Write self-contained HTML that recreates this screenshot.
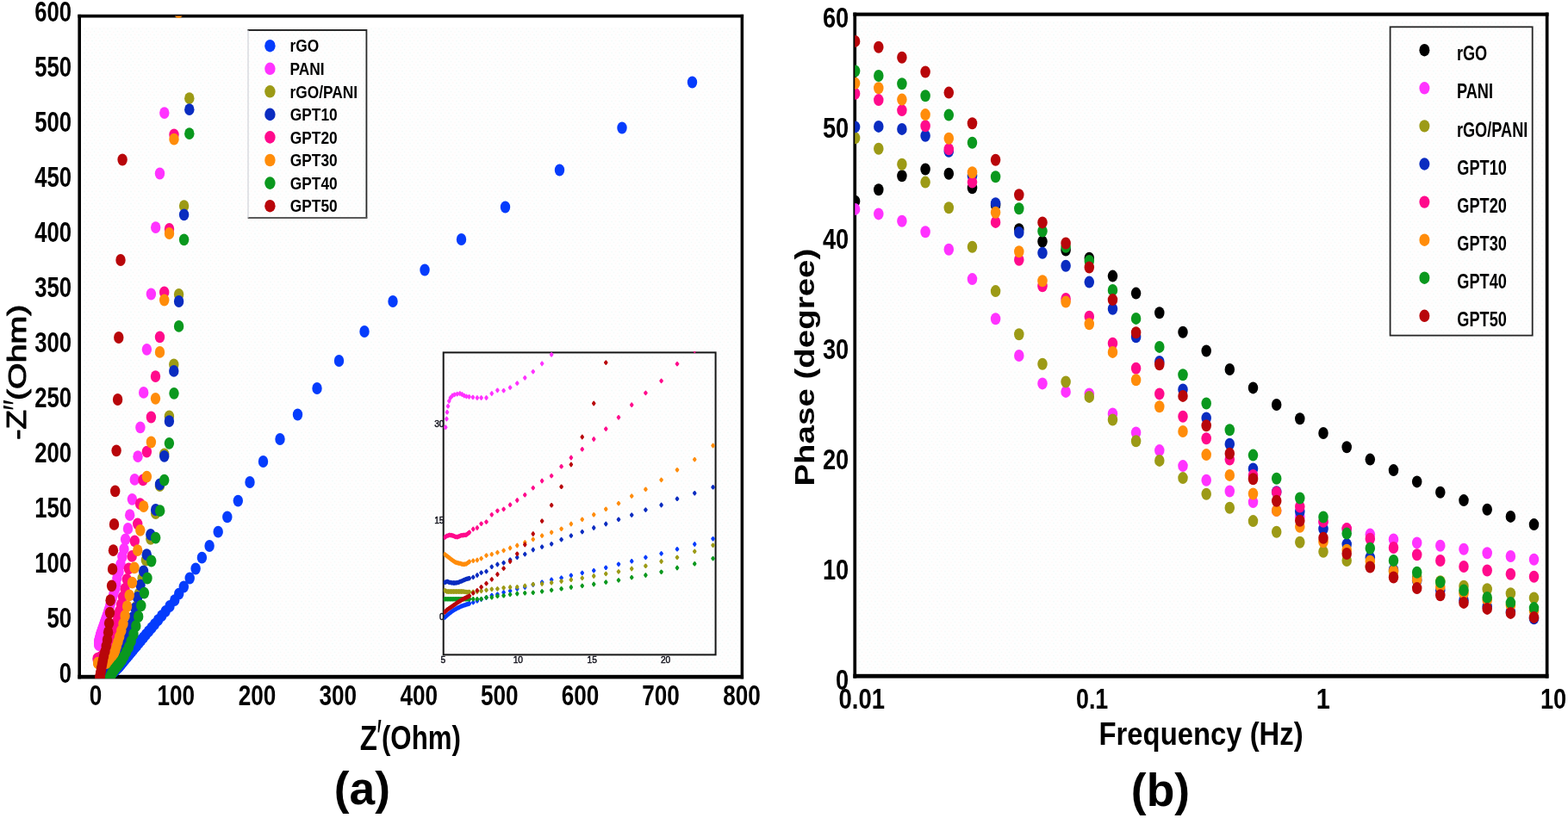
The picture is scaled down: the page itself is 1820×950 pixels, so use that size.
<!DOCTYPE html>
<html lang="en">
<head>
<meta charset="utf-8">
<title>Nyquist and Bode phase plots</title>
<style>
html,body{margin:0;padding:0;background:#fff;}
body{width:1820px;height:950px;overflow:hidden;}
svg{display:block;filter:blur(0.6px);}
svg text{font-family:"Liberation Sans", sans-serif;}
</style>
</head>
<body>
<svg width="1820" height="950" viewBox="0 0 1820 950">
<rect width="1820" height="950" fill="#ffffff"/>
<defs>
<pattern id="dz" width="9" height="7" patternUnits="userSpaceOnUse">
<rect width="9" height="7" fill="#fefefe"/>
<circle cx="1.5" cy="1.5" r="0.8" fill="#f2faf9"/>
<circle cx="6" cy="2.2" r="0.8" fill="#fef6f6"/>
<circle cx="3.6" cy="5" r="0.8" fill="#fef7f5"/>
<circle cx="8" cy="5.6" r="0.8" fill="#f1faf8"/>
</pattern>
</defs>
<rect x="97" y="31" width="760" height="751" fill="url(#dz)"/>
<g fill="#000"><rect x="90.4" y="16.8" width="3.60" height="771.60"/><rect x="90.4" y="16.8" width="772.70" height="3.70"/><rect x="859.6" y="16.8" width="3.50" height="771.60"/><rect x="90.4" y="783.8" width="772.70" height="4.60"/></g>
<clipPath id="ca"><rect x="92.2" y="18.6" width="769" height="769"/></clipPath>
<g clip-path="url(#ca)">
<g fill="#053cfc">
<ellipse cx="803.5" cy="95.5" rx="5.7" ry="6.9"/>
<ellipse cx="722.0" cy="148.5" rx="5.7" ry="6.9"/>
<ellipse cx="649.5" cy="197.5" rx="5.7" ry="6.9"/>
<ellipse cx="586.5" cy="240.5" rx="5.7" ry="6.9"/>
<ellipse cx="535.5" cy="278.0" rx="5.7" ry="6.9"/>
<ellipse cx="493.0" cy="313.5" rx="5.7" ry="6.9"/>
<ellipse cx="456.0" cy="350.0" rx="5.7" ry="6.9"/>
<ellipse cx="423.0" cy="385.0" rx="5.7" ry="6.9"/>
<ellipse cx="393.5" cy="419.0" rx="5.7" ry="6.9"/>
<ellipse cx="368.0" cy="451.0" rx="5.7" ry="6.9"/>
<ellipse cx="345.5" cy="481.5" rx="5.7" ry="6.9"/>
<ellipse cx="325.0" cy="510.0" rx="5.7" ry="6.9"/>
<ellipse cx="305.5" cy="536.0" rx="5.7" ry="6.9"/>
<ellipse cx="290.0" cy="560.0" rx="5.7" ry="6.9"/>
<ellipse cx="276.3" cy="581.6" rx="5.7" ry="6.9"/>
<ellipse cx="263.8" cy="600.4" rx="5.7" ry="6.9"/>
<ellipse cx="253.2" cy="617.7" rx="5.7" ry="6.9"/>
<ellipse cx="243.1" cy="634.0" rx="5.7" ry="6.9"/>
<ellipse cx="234.4" cy="647.7" rx="5.7" ry="6.9"/>
<ellipse cx="227.1" cy="660.5" rx="5.7" ry="6.9"/>
<ellipse cx="220.2" cy="671.5" rx="5.7" ry="6.9"/>
<ellipse cx="213.3" cy="681.5" rx="5.7" ry="6.9"/>
<ellipse cx="207.7" cy="689.7" rx="5.7" ry="6.9"/>
<ellipse cx="202.7" cy="697.2" rx="5.7" ry="6.9"/>
<ellipse cx="197.0" cy="704.0" rx="5.7" ry="6.9"/>
<ellipse cx="192.2" cy="709.8" rx="5.7" ry="6.9"/>
<ellipse cx="187.7" cy="715.2" rx="5.7" ry="6.9"/>
<ellipse cx="183.5" cy="720.2" rx="5.7" ry="6.9"/>
<ellipse cx="179.6" cy="724.8" rx="5.7" ry="6.9"/>
<ellipse cx="176.0" cy="729.2" rx="5.7" ry="6.9"/>
<ellipse cx="172.6" cy="733.1" rx="5.7" ry="6.9"/>
<ellipse cx="169.4" cy="736.8" rx="5.7" ry="6.9"/>
<ellipse cx="166.5" cy="740.3" rx="5.7" ry="6.9"/>
<ellipse cx="163.8" cy="743.5" rx="5.7" ry="6.9"/>
<ellipse cx="161.3" cy="746.5" rx="5.7" ry="6.9"/>
<ellipse cx="159.0" cy="749.3" rx="5.7" ry="6.9"/>
<ellipse cx="156.8" cy="751.9" rx="5.7" ry="6.9"/>
<ellipse cx="154.8" cy="754.3" rx="5.7" ry="6.9"/>
<ellipse cx="152.9" cy="756.6" rx="5.7" ry="6.9"/>
<ellipse cx="151.2" cy="758.6" rx="5.7" ry="6.9"/>
<ellipse cx="149.6" cy="760.6" rx="5.7" ry="6.9"/>
<ellipse cx="148.0" cy="762.4" rx="5.7" ry="6.9"/>
<ellipse cx="146.6" cy="764.0" rx="5.7" ry="6.9"/>
<ellipse cx="145.3" cy="765.6" rx="5.7" ry="6.9"/>
<ellipse cx="144.1" cy="767.0" rx="5.7" ry="6.9"/>
<ellipse cx="143.0" cy="768.4" rx="5.7" ry="6.9"/>
<ellipse cx="142.0" cy="769.6" rx="5.7" ry="6.9"/>
<ellipse cx="141.0" cy="770.8" rx="5.7" ry="6.9"/>
<ellipse cx="140.1" cy="771.9" rx="5.7" ry="6.9"/>
<ellipse cx="139.3" cy="772.9" rx="5.7" ry="6.9"/>
<ellipse cx="138.5" cy="773.8" rx="5.7" ry="6.9"/>
<ellipse cx="137.7" cy="774.7" rx="5.7" ry="6.9"/>
<ellipse cx="136.9" cy="775.4" rx="5.7" ry="6.9"/>
<ellipse cx="136.1" cy="776.2" rx="5.7" ry="6.9"/>
<ellipse cx="135.3" cy="776.9" rx="5.7" ry="6.9"/>
<ellipse cx="134.5" cy="777.7" rx="5.7" ry="6.9"/>
<ellipse cx="133.7" cy="778.4" rx="5.7" ry="6.9"/>
<ellipse cx="132.9" cy="779.2" rx="5.7" ry="6.9"/>
<ellipse cx="132.1" cy="779.9" rx="5.7" ry="6.9"/>
<ellipse cx="131.3" cy="780.7" rx="5.7" ry="6.9"/>
<ellipse cx="130.4" cy="781.3" rx="5.7" ry="6.9"/>
<ellipse cx="129.6" cy="782.0" rx="5.7" ry="6.9"/>
<ellipse cx="128.7" cy="782.7" rx="5.7" ry="6.9"/>
<ellipse cx="127.9" cy="783.4" rx="5.7" ry="6.9"/>
<ellipse cx="127.0" cy="784.1" rx="5.7" ry="6.9"/>
<ellipse cx="126.5" cy="784.5" rx="5.7" ry="6.9"/>
</g>
<g fill="#ff33ff">
<ellipse cx="190.8" cy="131.1" rx="5.7" ry="6.9"/>
<ellipse cx="185.5" cy="201.5" rx="5.7" ry="6.9"/>
<ellipse cx="180.7" cy="264.1" rx="5.7" ry="6.9"/>
<ellipse cx="175.4" cy="341.5" rx="5.7" ry="6.9"/>
<ellipse cx="170.4" cy="405.8" rx="5.7" ry="6.9"/>
<ellipse cx="166.7" cy="455.9" rx="5.7" ry="6.9"/>
<ellipse cx="162.9" cy="496.4" rx="5.7" ry="6.9"/>
<ellipse cx="160.0" cy="530.2" rx="5.7" ry="6.9"/>
<ellipse cx="156.3" cy="556.9" rx="5.7" ry="6.9"/>
<ellipse cx="153.4" cy="579.8" rx="5.7" ry="6.9"/>
<ellipse cx="150.7" cy="598.2" rx="5.7" ry="6.9"/>
<ellipse cx="148.5" cy="613.9" rx="5.7" ry="6.9"/>
<ellipse cx="145.6" cy="626.4" rx="5.7" ry="6.9"/>
<ellipse cx="144.0" cy="637.7" rx="5.7" ry="6.9"/>
<ellipse cx="141.9" cy="646.5" rx="5.7" ry="6.9"/>
<ellipse cx="140.0" cy="655.3" rx="5.7" ry="6.9"/>
<ellipse cx="138.1" cy="664.0" rx="5.7" ry="6.9"/>
<ellipse cx="135.9" cy="671.2" rx="5.7" ry="6.9"/>
<ellipse cx="134.9" cy="678.1" rx="5.7" ry="6.9"/>
<ellipse cx="133.6" cy="684.2" rx="5.7" ry="6.9"/>
<ellipse cx="131.9" cy="689.8" rx="5.7" ry="6.9"/>
<ellipse cx="130.3" cy="694.8" rx="5.7" ry="6.9"/>
<ellipse cx="128.9" cy="699.5" rx="5.7" ry="6.9"/>
<ellipse cx="127.7" cy="703.7" rx="5.7" ry="6.9"/>
<ellipse cx="126.5" cy="707.6" rx="5.7" ry="6.9"/>
<ellipse cx="125.4" cy="711.1" rx="5.7" ry="6.9"/>
<ellipse cx="124.4" cy="714.4" rx="5.7" ry="6.9"/>
<ellipse cx="123.4" cy="717.3" rx="5.7" ry="6.9"/>
<ellipse cx="122.5" cy="720.0" rx="5.7" ry="6.9"/>
<ellipse cx="121.6" cy="722.4" rx="5.7" ry="6.9"/>
<ellipse cx="120.9" cy="724.7" rx="5.7" ry="6.9"/>
<ellipse cx="120.2" cy="726.7" rx="5.7" ry="6.9"/>
<ellipse cx="119.5" cy="728.6" rx="5.7" ry="6.9"/>
<ellipse cx="118.9" cy="730.3" rx="5.7" ry="6.9"/>
<ellipse cx="118.4" cy="731.9" rx="5.7" ry="6.9"/>
<ellipse cx="117.9" cy="733.4" rx="5.7" ry="6.9"/>
<ellipse cx="117.5" cy="734.7" rx="5.7" ry="6.9"/>
<ellipse cx="117.1" cy="735.9" rx="5.7" ry="6.9"/>
<ellipse cx="116.7" cy="737.0" rx="5.7" ry="6.9"/>
<ellipse cx="116.5" cy="738.0" rx="5.7" ry="6.9"/>
<ellipse cx="116.2" cy="739.1" rx="5.7" ry="6.9"/>
<ellipse cx="115.9" cy="740.2" rx="5.7" ry="6.9"/>
<ellipse cx="115.6" cy="741.2" rx="5.7" ry="6.9"/>
<ellipse cx="115.4" cy="742.3" rx="5.7" ry="6.9"/>
<ellipse cx="115.1" cy="743.4" rx="5.7" ry="6.9"/>
<ellipse cx="114.9" cy="744.5" rx="5.7" ry="6.9"/>
<ellipse cx="114.9" cy="745.6" rx="5.7" ry="6.9"/>
<ellipse cx="114.9" cy="746.7" rx="5.7" ry="6.9"/>
<ellipse cx="114.9" cy="747.8" rx="5.7" ry="6.9"/>
<ellipse cx="114.9" cy="748.9" rx="5.7" ry="6.9"/>
<ellipse cx="114.9" cy="749.2" rx="5.7" ry="6.9"/>
</g>
<g fill="#9c9a16">
<ellipse cx="219.8" cy="114.2" rx="5.7" ry="6.9"/>
<ellipse cx="213.6" cy="239.1" rx="5.7" ry="6.9"/>
<ellipse cx="207.6" cy="341.9" rx="5.7" ry="6.9"/>
<ellipse cx="201.8" cy="423.4" rx="5.7" ry="6.9"/>
<ellipse cx="196.4" cy="483.5" rx="5.7" ry="6.9"/>
<ellipse cx="190.7" cy="527.3" rx="5.7" ry="6.9"/>
<ellipse cx="185.5" cy="564.2" rx="5.7" ry="6.9"/>
<ellipse cx="180.7" cy="596.2" rx="5.7" ry="6.9"/>
<ellipse cx="174.8" cy="625.8" rx="5.7" ry="6.9"/>
<ellipse cx="169.4" cy="650.5" rx="5.7" ry="6.9"/>
<ellipse cx="165.1" cy="671.6" rx="5.7" ry="6.9"/>
<ellipse cx="161.4" cy="689.4" rx="5.7" ry="6.9"/>
<ellipse cx="158.1" cy="704.6" rx="5.7" ry="6.9"/>
<ellipse cx="155.2" cy="717.4" rx="5.7" ry="6.9"/>
<ellipse cx="152.4" cy="728.2" rx="5.7" ry="6.9"/>
<ellipse cx="149.8" cy="737.3" rx="5.7" ry="6.9"/>
<ellipse cx="147.5" cy="745.1" rx="5.7" ry="6.9"/>
<ellipse cx="144.9" cy="751.4" rx="5.7" ry="6.9"/>
<ellipse cx="142.8" cy="756.8" rx="5.7" ry="6.9"/>
<ellipse cx="140.7" cy="761.3" rx="5.7" ry="6.9"/>
<ellipse cx="138.5" cy="764.8" rx="5.7" ry="6.9"/>
<ellipse cx="136.7" cy="767.9" rx="5.7" ry="6.9"/>
<ellipse cx="135.1" cy="770.4" rx="5.7" ry="6.9"/>
<ellipse cx="133.7" cy="772.6" rx="5.7" ry="6.9"/>
<ellipse cx="132.1" cy="774.0" rx="5.7" ry="6.9"/>
<ellipse cx="130.5" cy="775.1" rx="5.7" ry="6.9"/>
<ellipse cx="129.3" cy="775.9" rx="5.7" ry="6.9"/>
<ellipse cx="128.2" cy="776.7" rx="5.7" ry="6.9"/>
<ellipse cx="127.2" cy="777.4" rx="5.7" ry="6.9"/>
<ellipse cx="126.3" cy="778.0" rx="5.7" ry="6.9"/>
<ellipse cx="125.4" cy="778.6" rx="5.7" ry="6.9"/>
<ellipse cx="124.5" cy="779.2" rx="5.7" ry="6.9"/>
<ellipse cx="123.6" cy="779.9" rx="5.7" ry="6.9"/>
<ellipse cx="122.7" cy="780.5" rx="5.7" ry="6.9"/>
<ellipse cx="122.0" cy="781.0" rx="5.7" ry="6.9"/>
</g>
<g fill="#0a2cc0">
<ellipse cx="219.8" cy="127.2" rx="5.7" ry="6.9"/>
<ellipse cx="213.6" cy="249.4" rx="5.7" ry="6.9"/>
<ellipse cx="207.6" cy="350.0" rx="5.7" ry="6.9"/>
<ellipse cx="201.8" cy="430.9" rx="5.7" ry="6.9"/>
<ellipse cx="196.4" cy="489.1" rx="5.7" ry="6.9"/>
<ellipse cx="190.7" cy="529.8" rx="5.7" ry="6.9"/>
<ellipse cx="185.5" cy="562.5" rx="5.7" ry="6.9"/>
<ellipse cx="180.7" cy="592.0" rx="5.7" ry="6.9"/>
<ellipse cx="174.8" cy="620.8" rx="5.7" ry="6.9"/>
<ellipse cx="170.3" cy="644.2" rx="5.7" ry="6.9"/>
<ellipse cx="166.6" cy="663.4" rx="5.7" ry="6.9"/>
<ellipse cx="163.0" cy="679.6" rx="5.7" ry="6.9"/>
<ellipse cx="159.6" cy="693.9" rx="5.7" ry="6.9"/>
<ellipse cx="156.9" cy="706.5" rx="5.7" ry="6.9"/>
<ellipse cx="153.8" cy="717.4" rx="5.7" ry="6.9"/>
<ellipse cx="151.2" cy="727.0" rx="5.7" ry="6.9"/>
<ellipse cx="148.9" cy="735.5" rx="5.7" ry="6.9"/>
<ellipse cx="146.2" cy="742.7" rx="5.7" ry="6.9"/>
<ellipse cx="143.8" cy="749.1" rx="5.7" ry="6.9"/>
<ellipse cx="141.7" cy="754.7" rx="5.7" ry="6.9"/>
<ellipse cx="139.6" cy="759.6" rx="5.7" ry="6.9"/>
<ellipse cx="137.6" cy="763.8" rx="5.7" ry="6.9"/>
<ellipse cx="135.3" cy="767.2" rx="5.7" ry="6.9"/>
<ellipse cx="133.2" cy="770.2" rx="5.7" ry="6.9"/>
<ellipse cx="131.4" cy="772.8" rx="5.7" ry="6.9"/>
<ellipse cx="129.7" cy="775.0" rx="5.7" ry="6.9"/>
<ellipse cx="128.3" cy="777.0" rx="5.7" ry="6.9"/>
<ellipse cx="127.0" cy="778.7" rx="5.7" ry="6.9"/>
<ellipse cx="125.8" cy="780.3" rx="5.7" ry="6.9"/>
<ellipse cx="125.0" cy="781.7" rx="5.7" ry="6.9"/>
<ellipse cx="124.3" cy="783.0" rx="5.7" ry="6.9"/>
<ellipse cx="123.6" cy="784.1" rx="5.7" ry="6.9"/>
<ellipse cx="123.1" cy="785.1" rx="5.7" ry="6.9"/>
<ellipse cx="122.5" cy="786.1" rx="5.7" ry="6.9"/>
<ellipse cx="122.0" cy="787.1" rx="5.7" ry="6.9"/>
<ellipse cx="121.6" cy="788.1" rx="5.7" ry="6.9"/>
<ellipse cx="121.3" cy="789.1" rx="5.7" ry="6.9"/>
<ellipse cx="120.9" cy="790.2" rx="5.7" ry="6.9"/>
<ellipse cx="120.6" cy="791.2" rx="5.7" ry="6.9"/>
<ellipse cx="120.2" cy="792.3" rx="5.7" ry="6.9"/>
<ellipse cx="120.0" cy="793.0" rx="5.7" ry="6.9"/>
</g>
<g fill="#ff0a8c">
<ellipse cx="202.0" cy="156.4" rx="5.7" ry="6.9"/>
<ellipse cx="196.5" cy="266.0" rx="5.7" ry="6.9"/>
<ellipse cx="190.7" cy="339.4" rx="5.7" ry="6.9"/>
<ellipse cx="185.5" cy="391.4" rx="5.7" ry="6.9"/>
<ellipse cx="180.5" cy="437.1" rx="5.7" ry="6.9"/>
<ellipse cx="175.4" cy="484.5" rx="5.7" ry="6.9"/>
<ellipse cx="170.4" cy="524.6" rx="5.7" ry="6.9"/>
<ellipse cx="166.0" cy="557.4" rx="5.7" ry="6.9"/>
<ellipse cx="162.6" cy="585.1" rx="5.7" ry="6.9"/>
<ellipse cx="159.7" cy="608.3" rx="5.7" ry="6.9"/>
<ellipse cx="156.3" cy="628.3" rx="5.7" ry="6.9"/>
<ellipse cx="153.2" cy="645.9" rx="5.7" ry="6.9"/>
<ellipse cx="149.4" cy="660.3" rx="5.7" ry="6.9"/>
<ellipse cx="147.3" cy="672.8" rx="5.7" ry="6.9"/>
<ellipse cx="145.0" cy="683.8" rx="5.7" ry="6.9"/>
<ellipse cx="142.6" cy="693.5" rx="5.7" ry="6.9"/>
<ellipse cx="140.5" cy="702.1" rx="5.7" ry="6.9"/>
<ellipse cx="138.6" cy="709.8" rx="5.7" ry="6.9"/>
<ellipse cx="136.9" cy="716.6" rx="5.7" ry="6.9"/>
<ellipse cx="135.3" cy="722.7" rx="5.7" ry="6.9"/>
<ellipse cx="134.0" cy="728.0" rx="5.7" ry="6.9"/>
<ellipse cx="132.8" cy="732.8" rx="5.7" ry="6.9"/>
<ellipse cx="131.5" cy="737.0" rx="5.7" ry="6.9"/>
<ellipse cx="130.4" cy="740.7" rx="5.7" ry="6.9"/>
<ellipse cx="129.2" cy="744.0" rx="5.7" ry="6.9"/>
<ellipse cx="128.1" cy="746.8" rx="5.7" ry="6.9"/>
<ellipse cx="127.1" cy="749.4" rx="5.7" ry="6.9"/>
<ellipse cx="126.2" cy="751.6" rx="5.7" ry="6.9"/>
<ellipse cx="125.1" cy="753.5" rx="5.7" ry="6.9"/>
<ellipse cx="124.1" cy="755.1" rx="5.7" ry="6.9"/>
<ellipse cx="123.2" cy="756.6" rx="5.7" ry="6.9"/>
<ellipse cx="122.3" cy="757.8" rx="5.7" ry="6.9"/>
<ellipse cx="121.6" cy="759.0" rx="5.7" ry="6.9"/>
<ellipse cx="121.0" cy="760.0" rx="5.7" ry="6.9"/>
<ellipse cx="120.1" cy="760.7" rx="5.7" ry="6.9"/>
<ellipse cx="119.3" cy="761.4" rx="5.7" ry="6.9"/>
<ellipse cx="118.4" cy="762.1" rx="5.7" ry="6.9"/>
<ellipse cx="117.6" cy="762.7" rx="5.7" ry="6.9"/>
<ellipse cx="116.7" cy="763.4" rx="5.7" ry="6.9"/>
<ellipse cx="115.8" cy="764.1" rx="5.7" ry="6.9"/>
<ellipse cx="114.8" cy="764.4" rx="5.7" ry="6.9"/>
<ellipse cx="113.7" cy="764.8" rx="5.7" ry="6.9"/>
<ellipse cx="113.0" cy="765.0" rx="5.7" ry="6.9"/>
</g>
<g fill="#ff8c0a">
<ellipse cx="207.2" cy="14.0" rx="5.7" ry="6.9"/>
<ellipse cx="202.0" cy="161.7" rx="5.7" ry="6.9"/>
<ellipse cx="196.5" cy="271.0" rx="5.7" ry="6.9"/>
<ellipse cx="190.7" cy="348.5" rx="5.7" ry="6.9"/>
<ellipse cx="185.5" cy="408.9" rx="5.7" ry="6.9"/>
<ellipse cx="180.5" cy="462.8" rx="5.7" ry="6.9"/>
<ellipse cx="175.4" cy="513.5" rx="5.7" ry="6.9"/>
<ellipse cx="170.4" cy="553.6" rx="5.7" ry="6.9"/>
<ellipse cx="166.7" cy="588.2" rx="5.7" ry="6.9"/>
<ellipse cx="162.8" cy="615.8" rx="5.7" ry="6.9"/>
<ellipse cx="159.7" cy="639.2" rx="5.7" ry="6.9"/>
<ellipse cx="156.0" cy="659.4" rx="5.7" ry="6.9"/>
<ellipse cx="153.5" cy="676.7" rx="5.7" ry="6.9"/>
<ellipse cx="150.2" cy="691.4" rx="5.7" ry="6.9"/>
<ellipse cx="147.6" cy="704.1" rx="5.7" ry="6.9"/>
<ellipse cx="145.1" cy="715.0" rx="5.7" ry="6.9"/>
<ellipse cx="143.0" cy="724.5" rx="5.7" ry="6.9"/>
<ellipse cx="140.8" cy="732.5" rx="5.7" ry="6.9"/>
<ellipse cx="138.7" cy="739.4" rx="5.7" ry="6.9"/>
<ellipse cx="136.9" cy="745.4" rx="5.7" ry="6.9"/>
<ellipse cx="135.3" cy="750.5" rx="5.7" ry="6.9"/>
<ellipse cx="133.9" cy="754.9" rx="5.7" ry="6.9"/>
<ellipse cx="132.6" cy="758.7" rx="5.7" ry="6.9"/>
<ellipse cx="131.4" cy="761.9" rx="5.7" ry="6.9"/>
<ellipse cx="130.2" cy="764.6" rx="5.7" ry="6.9"/>
<ellipse cx="128.3" cy="766.4" rx="5.7" ry="6.9"/>
<ellipse cx="126.7" cy="767.9" rx="5.7" ry="6.9"/>
<ellipse cx="125.3" cy="769.2" rx="5.7" ry="6.9"/>
<ellipse cx="123.8" cy="769.8" rx="5.7" ry="6.9"/>
<ellipse cx="122.5" cy="770.1" rx="5.7" ry="6.9"/>
<ellipse cx="121.3" cy="770.4" rx="5.7" ry="6.9"/>
<ellipse cx="120.2" cy="770.7" rx="5.7" ry="6.9"/>
<ellipse cx="119.1" cy="771.0" rx="5.7" ry="6.9"/>
<ellipse cx="118.1" cy="770.8" rx="5.7" ry="6.9"/>
<ellipse cx="117.0" cy="770.6" rx="5.7" ry="6.9"/>
<ellipse cx="115.9" cy="770.4" rx="5.7" ry="6.9"/>
<ellipse cx="114.8" cy="770.2" rx="5.7" ry="6.9"/>
<ellipse cx="113.7" cy="770.0" rx="5.7" ry="6.9"/>
<ellipse cx="113.7" cy="770.0" rx="5.7" ry="6.9"/>
</g>
<g fill="#0a981e">
<ellipse cx="219.8" cy="155.2" rx="5.7" ry="6.9"/>
<ellipse cx="213.6" cy="278.3" rx="5.7" ry="6.9"/>
<ellipse cx="207.6" cy="378.9" rx="5.7" ry="6.9"/>
<ellipse cx="202.0" cy="456.8" rx="5.7" ry="6.9"/>
<ellipse cx="196.4" cy="514.8" rx="5.7" ry="6.9"/>
<ellipse cx="190.7" cy="557.6" rx="5.7" ry="6.9"/>
<ellipse cx="185.7" cy="593.2" rx="5.7" ry="6.9"/>
<ellipse cx="180.7" cy="624.6" rx="5.7" ry="6.9"/>
<ellipse cx="175.7" cy="651.5" rx="5.7" ry="6.9"/>
<ellipse cx="171.0" cy="671.5" rx="5.7" ry="6.9"/>
<ellipse cx="167.4" cy="688.6" rx="5.7" ry="6.9"/>
<ellipse cx="163.8" cy="703.3" rx="5.7" ry="6.9"/>
<ellipse cx="160.7" cy="716.0" rx="5.7" ry="6.9"/>
<ellipse cx="157.8" cy="727.0" rx="5.7" ry="6.9"/>
<ellipse cx="155.0" cy="736.5" rx="5.7" ry="6.9"/>
<ellipse cx="152.2" cy="744.6" rx="5.7" ry="6.9"/>
<ellipse cx="149.5" cy="751.5" rx="5.7" ry="6.9"/>
<ellipse cx="146.6" cy="757.2" rx="5.7" ry="6.9"/>
<ellipse cx="144.0" cy="762.1" rx="5.7" ry="6.9"/>
<ellipse cx="141.6" cy="766.3" rx="5.7" ry="6.9"/>
<ellipse cx="139.2" cy="769.7" rx="5.7" ry="6.9"/>
<ellipse cx="136.9" cy="772.5" rx="5.7" ry="6.9"/>
<ellipse cx="134.9" cy="774.9" rx="5.7" ry="6.9"/>
<ellipse cx="133.2" cy="777.1" rx="5.7" ry="6.9"/>
<ellipse cx="131.9" cy="779.1" rx="5.7" ry="6.9"/>
<ellipse cx="130.7" cy="780.7" rx="5.7" ry="6.9"/>
<ellipse cx="129.8" cy="782.3" rx="5.7" ry="6.9"/>
<ellipse cx="129.2" cy="783.7" rx="5.7" ry="6.9"/>
<ellipse cx="128.6" cy="784.9" rx="5.7" ry="6.9"/>
<ellipse cx="128.0" cy="785.9" rx="5.7" ry="6.9"/>
<ellipse cx="127.6" cy="786.9" rx="5.7" ry="6.9"/>
<ellipse cx="127.2" cy="787.9" rx="5.7" ry="6.9"/>
<ellipse cx="126.8" cy="789.0" rx="5.7" ry="6.9"/>
<ellipse cx="126.5" cy="790.0" rx="5.7" ry="6.9"/>
<ellipse cx="126.1" cy="791.1" rx="5.7" ry="6.9"/>
<ellipse cx="125.8" cy="792.1" rx="5.7" ry="6.9"/>
<ellipse cx="125.5" cy="793.0" rx="5.7" ry="6.9"/>
</g>
<g fill="#b8060a">
<ellipse cx="142.1" cy="185.5" rx="5.7" ry="6.9"/>
<ellipse cx="140.0" cy="302.0" rx="5.7" ry="6.9"/>
<ellipse cx="137.8" cy="392.0" rx="5.7" ry="6.9"/>
<ellipse cx="136.6" cy="464.0" rx="5.7" ry="6.9"/>
<ellipse cx="135.1" cy="523.3" rx="5.7" ry="6.9"/>
<ellipse cx="133.7" cy="570.4" rx="5.7" ry="6.9"/>
<ellipse cx="132.5" cy="608.9" rx="5.7" ry="6.9"/>
<ellipse cx="131.5" cy="639.2" rx="5.7" ry="6.9"/>
<ellipse cx="130.6" cy="660.9" rx="5.7" ry="6.9"/>
<ellipse cx="129.6" cy="680.3" rx="5.7" ry="6.9"/>
<ellipse cx="128.1" cy="697.2" rx="5.7" ry="6.9"/>
<ellipse cx="127.5" cy="711.6" rx="5.7" ry="6.9"/>
<ellipse cx="126.6" cy="723.8" rx="5.7" ry="6.9"/>
<ellipse cx="125.6" cy="734.2" rx="5.7" ry="6.9"/>
<ellipse cx="124.5" cy="743.0" rx="5.7" ry="6.9"/>
<ellipse cx="123.2" cy="750.5" rx="5.7" ry="6.9"/>
<ellipse cx="121.9" cy="756.8" rx="5.7" ry="6.9"/>
<ellipse cx="120.5" cy="762.1" rx="5.7" ry="6.9"/>
<ellipse cx="119.5" cy="766.6" rx="5.7" ry="6.9"/>
<ellipse cx="118.8" cy="770.5" rx="5.7" ry="6.9"/>
<ellipse cx="118.1" cy="773.8" rx="5.7" ry="6.9"/>
<ellipse cx="117.6" cy="776.7" rx="5.7" ry="6.9"/>
<ellipse cx="117.2" cy="779.1" rx="5.7" ry="6.9"/>
<ellipse cx="116.8" cy="781.1" rx="5.7" ry="6.9"/>
<ellipse cx="116.5" cy="782.9" rx="5.7" ry="6.9"/>
<ellipse cx="116.3" cy="784.4" rx="5.7" ry="6.9"/>
<ellipse cx="116.2" cy="785.7" rx="5.7" ry="6.9"/>
<ellipse cx="116.0" cy="786.8" rx="5.7" ry="6.9"/>
<ellipse cx="115.9" cy="787.9" rx="5.7" ry="6.9"/>
<ellipse cx="115.8" cy="788.9" rx="5.7" ry="6.9"/>
<ellipse cx="115.6" cy="790.0" rx="5.7" ry="6.9"/>
<ellipse cx="115.5" cy="791.1" rx="5.7" ry="6.9"/>
<ellipse cx="115.4" cy="792.2" rx="5.7" ry="6.9"/>
<ellipse cx="115.3" cy="793.0" rx="5.7" ry="6.9"/>
</g>
</g>
<rect x="288" y="35" width="137.4" height="218" fill="url(#dz)"/>
<path d="M287.4 35 H425.4 V253.6" fill="none" stroke="#2a2a2a" stroke-width="1.8"/>
<path d="M287.6 253 H426.3" fill="none" stroke="#5a5a5a" stroke-width="2"/>
<path d="M288 35 V253" fill="none" stroke="#c8c8d0" stroke-width="1"/>
<ellipse cx="313.4" cy="53.2" rx="6.2" ry="7.3" fill="#053cfc"/>
<ellipse cx="313.4" cy="79.8" rx="6.2" ry="7.3" fill="#ff33ff"/>
<ellipse cx="313.4" cy="106.3" rx="6.2" ry="7.3" fill="#9c9a16"/>
<ellipse cx="313.4" cy="132.9" rx="6.2" ry="7.3" fill="#0a2cc0"/>
<ellipse cx="313.4" cy="159.4" rx="6.2" ry="7.3" fill="#ff0a8c"/>
<ellipse cx="313.4" cy="186.0" rx="6.2" ry="7.3" fill="#ff8c0a"/>
<ellipse cx="313.4" cy="212.6" rx="6.2" ry="7.3" fill="#0a981e"/>
<ellipse cx="313.4" cy="239.2" rx="6.2" ry="7.3" fill="#b8060a"/>
<rect x="514.7" y="409.4" width="315.9" height="351" fill="none" stroke="#161616" stroke-width="2"/>
<clipPath id="ci"><rect x="514.7" y="408.6" width="316.6" height="352"/></clipPath>
<g clip-path="url(#ci)">
<g fill="#053cfc" stroke="#053cfc" stroke-width="1.9" stroke-linejoin="round">
<path d="M516.3 715.2L517.6 717.1L516.3 719.0L514.9 717.1Z"/>
<path d="M517.4 714.2L518.8 716.1L517.4 717.9L516.1 716.1Z"/>
<path d="M518.5 713.2L519.9 715.1L518.5 716.9L517.2 715.1Z"/>
<path d="M519.6 712.2L521.0 714.1L519.6 715.9L518.3 714.1Z"/>
<path d="M520.8 711.2L522.1 713.1L520.8 714.9L519.4 713.1Z"/>
<path d="M521.9 710.3L523.2 712.1L521.9 714.0L520.5 712.1Z"/>
<path d="M523.1 709.4L524.5 711.2L523.1 713.1L521.8 711.2Z"/>
<path d="M524.3 708.5L525.7 710.4L524.3 712.2L523.0 710.4Z"/>
<path d="M525.6 707.6L526.9 709.5L525.6 711.3L524.2 709.5Z"/>
<path d="M526.8 706.8L528.1 708.6L526.8 710.5L525.4 708.6Z"/>
<path d="M528.0 706.0L529.4 707.8L528.0 709.7L526.7 707.8Z"/>
<path d="M529.4 705.3L530.7 707.1L529.4 709.0L528.0 707.1Z"/>
<path d="M530.7 704.6L532.0 706.4L530.7 708.3L529.3 706.4Z"/>
<path d="M532.0 703.9L533.4 705.8L532.0 707.6L530.7 705.8Z"/>
<path d="M533.4 703.3L534.7 705.1L533.4 707.0L532.0 705.1Z"/>
<path d="M534.8 702.6L536.1 704.5L534.8 706.3L533.4 704.5Z"/>
<path d="M536.1 702.1L537.5 703.9L536.1 705.8L534.8 703.9Z"/>
<path d="M537.5 701.5L538.9 703.3L537.5 705.2L536.2 703.3Z"/>
<path d="M539.0 701.0L540.3 702.9L539.0 704.7L537.6 702.9Z"/>
<path d="M540.4 700.6L541.7 702.4L540.4 704.3L539.0 702.4Z"/>
<path d="M541.8 700.1L543.2 702.0L541.8 703.8L540.5 702.0Z"/>
<path d="M543.2 699.6L544.6 701.5L543.2 703.3L541.9 701.5Z"/>
<path d="M544.7 699.1L546.0 701.0L544.7 702.8L543.3 701.0Z"/>
<path d="M544.9 699.0L546.2 700.9L544.9 702.8L543.5 700.9Z"/>
<path d="M549.2 697.8L550.6 699.6L549.2 701.5L547.9 699.6Z"/>
<path d="M553.9 696.0L555.2 697.9L553.9 699.8L552.5 697.9Z"/>
<path d="M558.6 694.1L560.0 696.0L558.6 697.9L557.2 696.0Z"/>
<path d="M564.5 692.1L565.9 694.0L564.5 695.9L563.1 694.0Z"/>
<path d="M570.8 689.5L572.1 691.4L570.8 693.2L569.4 691.4Z"/>
<path d="M577.4 688.4L578.8 690.2L577.4 692.1L576.0 690.2Z"/>
<path d="M584.6 686.1L586.0 688.0L584.6 689.9L583.2 688.0Z"/>
<path d="M592.1 684.4L593.5 686.2L592.1 688.1L590.8 686.2Z"/>
<path d="M600.3 682.0L601.6 683.9L600.3 685.8L598.9 683.9Z"/>
<path d="M609.3 680.1L610.6 682.0L609.3 683.9L607.9 682.0Z"/>
<path d="M618.8 677.1L620.1 679.0L618.8 680.9L617.4 679.0Z"/>
<path d="M629.1 674.2L630.5 676.1L629.1 678.0L627.8 676.1Z"/>
<path d="M640.1 671.4L641.5 673.3L640.1 675.1L638.8 673.3Z"/>
<path d="M651.6 669.2L653.0 671.1L651.6 673.0L650.2 671.1Z"/>
<path d="M662.9 666.4L664.2 668.2L662.9 670.1L661.5 668.2Z"/>
<path d="M675.8 663.5L677.1 665.4L675.8 667.2L674.4 665.4Z"/>
<path d="M689.2 660.8L690.6 662.6L689.2 664.5L687.9 662.6Z"/>
<path d="M703.3 657.4L704.6 659.2L703.3 661.1L701.9 659.2Z"/>
<path d="M718.0 653.4L719.4 655.2L718.0 657.1L716.6 655.2Z"/>
<path d="M733.2 649.9L734.6 651.8L733.2 653.6L731.9 651.8Z"/>
<path d="M749.4 645.5L750.8 647.4L749.4 649.2L748.0 647.4Z"/>
<path d="M767.6 641.0L769.0 642.9L767.6 644.8L766.2 642.9Z"/>
<path d="M786.0 635.9L787.4 637.8L786.0 639.6L784.6 637.8Z"/>
<path d="M806.3 630.1L807.6 632.0L806.3 633.9L804.9 632.0Z"/>
<path d="M827.6 623.9L829.0 625.7L827.6 627.6L826.2 625.7Z"/>
</g>
<g fill="#ff33ff" stroke="#ff33ff" stroke-width="1.9" stroke-linejoin="round">
<path d="M517.2 494.3L518.6 496.2L517.2 498.1L515.9 496.2Z"/>
<path d="M518.4 484.6L519.8 486.5L518.4 488.4L517.0 486.5Z"/>
<path d="M519.0 476.8L520.4 478.7L519.0 480.6L517.6 478.7Z"/>
<path d="M520.0 469.8L521.4 471.7L520.0 473.6L518.6 471.7Z"/>
<path d="M521.3 463.9L522.6 465.8L521.3 467.7L519.9 465.8Z"/>
<path d="M522.9 460.1L524.2 462.0L522.9 463.9L521.5 462.0Z"/>
<path d="M525.1 457.6L526.5 459.5L525.1 461.4L523.8 459.5Z"/>
<path d="M527.6 456.4L529.0 458.3L527.6 460.2L526.2 458.3Z"/>
<path d="M530.7 455.8L532.1 457.6L530.7 459.5L529.4 457.6Z"/>
<path d="M533.8 455.1L535.1 457.0L533.8 458.9L532.4 457.0Z"/>
<path d="M536.3 456.1L537.6 458.0L536.3 459.9L534.9 458.0Z"/>
<path d="M538.8 457.6L540.1 459.5L538.8 461.4L537.4 459.5Z"/>
<path d="M541.4 458.5L542.8 460.4L541.4 462.2L540.0 460.4Z"/>
<path d="M544.5 458.9L545.9 460.8L544.5 462.7L543.1 460.8Z"/>
<path d="M548.9 459.5L550.2 461.4L548.9 463.2L547.5 461.4Z"/>
<path d="M553.9 460.1L555.2 462.0L553.9 463.9L552.5 462.0Z"/>
<path d="M558.6 460.1L560.0 462.0L558.6 463.9L557.2 462.0Z"/>
<path d="M564.5 460.1L565.9 462.0L564.5 463.9L563.1 462.0Z"/>
<path d="M570.8 455.1L572.1 457.0L570.8 458.9L569.4 457.0Z"/>
<path d="M577.4 451.4L578.8 453.3L577.4 455.2L576.0 453.3Z"/>
<path d="M584.6 451.8L586.0 453.6L584.6 455.5L583.2 453.6Z"/>
<path d="M592.1 448.2L593.5 450.1L592.1 452.0L590.8 450.1Z"/>
<path d="M600.3 443.2L601.6 445.1L600.3 447.0L598.9 445.1Z"/>
<path d="M609.3 436.9L610.6 438.8L609.3 440.7L607.9 438.8Z"/>
<path d="M618.8 429.8L620.1 431.6L618.8 433.5L617.4 431.6Z"/>
<path d="M629.1 420.4L630.5 422.3L629.1 424.2L627.8 422.3Z"/>
<path d="M640.1 410.0L641.5 411.9L640.1 413.8L638.8 411.9Z"/>
</g>
<g fill="#9c9a16" stroke="#9c9a16" stroke-width="1.9" stroke-linejoin="round">
<path d="M516.3 683.9L517.6 685.8L516.3 687.6L514.9 685.8Z"/>
<path d="M517.7 684.6L519.0 686.4L517.7 688.3L516.3 686.4Z"/>
<path d="M519.0 685.1L520.4 687.0L519.0 688.9L517.7 687.0Z"/>
<path d="M520.5 685.1L521.9 687.0L520.5 688.9L519.2 687.0Z"/>
<path d="M522.0 685.1L523.4 687.0L522.0 688.9L520.7 687.0Z"/>
<path d="M523.5 685.1L524.9 687.0L523.5 688.9L522.2 687.0Z"/>
<path d="M525.0 685.1L526.4 687.0L525.0 688.9L523.7 687.0Z"/>
<path d="M526.5 685.1L527.9 687.0L526.5 688.9L525.2 687.0Z"/>
<path d="M528.0 685.1L529.4 687.0L528.0 688.9L526.7 687.0Z"/>
<path d="M529.5 685.1L530.9 687.0L529.5 688.9L528.2 687.0Z"/>
<path d="M531.0 685.1L532.4 687.0L531.0 688.9L529.7 687.0Z"/>
<path d="M532.5 685.1L533.9 687.0L532.5 688.9L531.2 687.0Z"/>
<path d="M534.0 685.1L535.4 687.0L534.0 688.9L532.7 687.0Z"/>
<path d="M535.5 685.1L536.9 687.0L535.5 688.9L534.2 687.0Z"/>
<path d="M537.0 685.1L538.4 687.0L537.0 688.9L535.7 687.0Z"/>
<path d="M538.5 685.3L539.9 687.2L538.5 689.0L537.2 687.2Z"/>
<path d="M540.0 685.6L541.3 687.4L540.0 689.3L538.6 687.4Z"/>
<path d="M541.5 685.8L542.8 687.7L541.5 689.5L540.1 687.7Z"/>
<path d="M543.0 685.8L544.3 687.7L543.0 689.5L541.6 687.7Z"/>
<path d="M544.5 685.8L545.8 687.6L544.5 689.5L543.1 687.6Z"/>
<path d="M544.9 685.8L546.2 687.6L544.9 689.5L543.5 687.6Z"/>
<path d="M549.2 685.5L550.6 687.4L549.2 689.2L547.9 687.4Z"/>
<path d="M553.9 685.1L555.2 687.0L553.9 688.9L552.5 687.0Z"/>
<path d="M558.6 684.5L560.0 686.4L558.6 688.2L557.2 686.4Z"/>
<path d="M564.5 683.5L565.9 685.4L564.5 687.2L563.1 685.4Z"/>
<path d="M570.8 682.4L572.1 684.2L570.8 686.1L569.4 684.2Z"/>
<path d="M577.4 682.0L578.8 683.9L577.4 685.8L576.0 683.9Z"/>
<path d="M584.6 680.9L586.0 682.7L584.6 684.6L583.2 682.7Z"/>
<path d="M592.1 680.1L593.5 682.0L592.1 683.9L590.8 682.0Z"/>
<path d="M600.3 679.9L601.6 681.8L600.3 683.6L598.9 681.8Z"/>
<path d="M609.3 678.5L610.6 680.4L609.3 682.2L607.9 680.4Z"/>
<path d="M618.8 676.8L620.1 678.6L618.8 680.5L617.4 678.6Z"/>
<path d="M629.1 676.1L630.5 678.0L629.1 679.9L627.8 678.0Z"/>
<path d="M640.1 674.9L641.5 676.7L640.1 678.6L638.8 676.7Z"/>
<path d="M651.6 673.1L653.0 675.0L651.6 676.9L650.2 675.0Z"/>
<path d="M662.9 671.4L664.2 673.3L662.9 675.1L661.5 673.3Z"/>
<path d="M675.8 669.5L677.1 671.4L675.8 673.2L674.4 671.4Z"/>
<path d="M689.2 667.1L690.6 669.0L689.2 670.9L687.9 669.0Z"/>
<path d="M703.3 664.5L704.6 666.4L703.3 668.2L701.9 666.4Z"/>
<path d="M718.0 662.0L719.4 663.9L718.0 665.8L716.6 663.9Z"/>
<path d="M733.2 658.6L734.6 660.5L733.2 662.4L731.9 660.5Z"/>
<path d="M749.4 655.4L750.8 657.3L749.4 659.1L748.0 657.3Z"/>
<path d="M767.6 650.1L769.0 652.0L767.6 653.9L766.2 652.0Z"/>
<path d="M786.0 645.5L787.4 647.4L786.0 649.2L784.6 647.4Z"/>
<path d="M806.3 638.5L807.6 640.4L806.3 642.2L804.9 640.4Z"/>
<path d="M827.6 631.4L829.0 633.2L827.6 635.1L826.2 633.2Z"/>
</g>
<g fill="#0a2cc0" stroke="#0a2cc0" stroke-width="1.9" stroke-linejoin="round">
<path d="M516.3 674.5L517.6 676.4L516.3 678.2L514.9 676.4Z"/>
<path d="M517.7 674.0L519.0 675.8L517.7 677.7L516.3 675.8Z"/>
<path d="M519.1 673.6L520.4 675.5L519.1 677.3L517.7 675.5Z"/>
<path d="M520.5 674.1L521.9 676.0L520.5 677.8L519.2 676.0Z"/>
<path d="M521.9 674.6L523.3 676.4L521.9 678.3L520.6 676.4Z"/>
<path d="M523.4 674.8L524.8 676.7L523.4 678.5L522.1 676.7Z"/>
<path d="M524.9 675.1L526.2 677.0L524.9 678.8L523.5 677.0Z"/>
<path d="M526.4 675.1L527.7 677.0L526.4 678.9L525.0 677.0Z"/>
<path d="M527.9 675.1L529.2 677.0L527.9 678.9L526.5 677.0Z"/>
<path d="M529.4 675.0L530.7 676.8L529.4 678.7L528.0 676.8Z"/>
<path d="M530.9 674.8L532.2 676.7L530.9 678.5L529.5 676.7Z"/>
<path d="M532.3 674.4L533.7 676.2L532.3 678.1L531.0 676.2Z"/>
<path d="M533.7 673.8L535.1 675.7L533.7 677.5L532.4 675.7Z"/>
<path d="M535.1 673.3L536.5 675.1L535.1 677.0L533.8 675.1Z"/>
<path d="M536.5 672.7L537.8 674.6L536.5 676.4L535.1 674.6Z"/>
<path d="M537.9 672.1L539.2 674.0L537.9 675.8L536.5 674.0Z"/>
<path d="M539.2 671.5L540.6 673.4L539.2 675.2L537.9 673.4Z"/>
<path d="M540.6 670.9L542.0 672.8L540.6 674.6L539.3 672.8Z"/>
<path d="M542.0 670.4L543.4 672.3L542.0 674.1L540.7 672.3Z"/>
<path d="M543.5 670.1L544.8 671.9L543.5 673.8L542.1 671.9Z"/>
<path d="M544.9 669.8L546.2 671.6L544.9 673.5L543.5 671.6Z"/>
<path d="M549.2 668.5L550.6 670.4L549.2 672.2L547.9 670.4Z"/>
<path d="M553.9 666.1L555.2 668.0L553.9 669.9L552.5 668.0Z"/>
<path d="M558.6 663.2L560.0 665.1L558.6 667.0L557.2 665.1Z"/>
<path d="M564.5 661.8L565.9 663.6L564.5 665.5L563.1 663.6Z"/>
<path d="M570.8 656.4L572.1 658.2L570.8 660.1L569.4 658.2Z"/>
<path d="M577.4 653.6L578.8 655.5L577.4 657.4L576.0 655.5Z"/>
<path d="M584.6 651.8L586.0 653.6L584.6 655.5L583.2 653.6Z"/>
<path d="M592.1 648.2L593.5 650.1L592.1 652.0L590.8 650.1Z"/>
<path d="M600.3 645.4L601.6 647.3L600.3 649.1L598.9 647.3Z"/>
<path d="M609.3 641.8L610.6 643.6L609.3 645.5L607.9 643.6Z"/>
<path d="M618.8 636.6L620.1 638.5L618.8 640.4L617.4 638.5Z"/>
<path d="M629.1 633.2L630.5 635.1L629.1 637.0L627.8 635.1Z"/>
<path d="M640.1 629.9L641.5 631.7L640.1 633.6L638.8 631.7Z"/>
<path d="M651.6 624.8L653.0 626.6L651.6 628.5L650.2 626.6Z"/>
<path d="M662.9 620.2L664.2 622.1L662.9 624.0L661.5 622.1Z"/>
<path d="M675.8 615.8L677.1 617.6L675.8 619.5L674.4 617.6Z"/>
<path d="M689.2 611.1L690.6 613.0L689.2 614.9L687.9 613.0Z"/>
<path d="M703.3 606.6L704.6 608.5L703.3 610.4L701.9 608.5Z"/>
<path d="M718.0 601.4L719.4 603.3L718.0 605.1L716.6 603.3Z"/>
<path d="M733.2 596.2L734.6 598.1L733.2 600.0L731.9 598.1Z"/>
<path d="M749.4 590.2L750.8 592.1L749.4 594.0L748.0 592.1Z"/>
<path d="M767.6 584.6L769.0 586.5L767.6 588.4L766.2 586.5Z"/>
<path d="M786.0 577.4L787.4 579.3L786.0 581.1L784.6 579.3Z"/>
<path d="M806.3 570.9L807.6 572.7L806.3 574.6L804.9 572.7Z"/>
<path d="M827.6 563.9L829.0 565.8L827.6 567.6L826.2 565.8Z"/>
</g>
<g fill="#ff0a8c" stroke="#ff0a8c" stroke-width="1.9" stroke-linejoin="round">
<path d="M516.3 622.1L517.6 624.0L516.3 625.9L514.9 624.0Z"/>
<path d="M517.6 621.3L518.9 623.2L517.6 625.0L516.2 623.2Z"/>
<path d="M518.8 620.5L520.2 622.4L518.8 624.2L517.5 622.4Z"/>
<path d="M520.3 620.1L521.6 621.9L520.3 623.8L518.9 621.9Z"/>
<path d="M521.7 619.6L523.0 621.5L521.7 623.3L520.3 621.5Z"/>
<path d="M523.2 619.7L524.5 621.6L523.2 623.4L521.8 621.6Z"/>
<path d="M524.7 619.9L526.0 621.7L524.7 623.6L523.3 621.7Z"/>
<path d="M526.0 620.4L527.4 622.3L526.0 624.1L524.7 622.3Z"/>
<path d="M527.4 621.1L528.7 622.9L527.4 624.8L526.0 622.9Z"/>
<path d="M528.8 621.5L530.2 623.4L528.8 625.2L527.5 623.4Z"/>
<path d="M530.3 621.7L531.6 623.5L530.3 625.4L528.9 623.5Z"/>
<path d="M531.7 621.5L533.1 623.4L531.7 625.2L530.4 623.4Z"/>
<path d="M533.1 620.9L534.4 622.7L533.1 624.6L531.7 622.7Z"/>
<path d="M534.4 620.2L535.8 622.0L534.4 623.9L533.1 622.0Z"/>
<path d="M535.9 619.9L537.2 621.8L535.9 623.6L534.5 621.8Z"/>
<path d="M537.4 619.7L538.7 621.5L537.4 623.4L536.0 621.5Z"/>
<path d="M538.9 619.5L540.2 621.4L538.9 623.2L537.5 621.4Z"/>
<path d="M540.4 619.4L541.7 621.2L540.4 623.1L539.0 621.2Z"/>
<path d="M541.7 619.0L543.1 620.8L541.7 622.7L540.4 620.8Z"/>
<path d="M542.9 618.0L544.3 619.9L542.9 621.7L541.6 619.9Z"/>
<path d="M544.1 617.0L545.4 618.9L544.1 620.7L542.7 618.9Z"/>
<path d="M544.9 616.4L546.2 618.2L544.9 620.1L543.5 618.2Z"/>
<path d="M549.2 612.6L550.6 614.5L549.2 616.4L547.9 614.5Z"/>
<path d="M553.9 611.1L555.2 613.0L553.9 614.9L552.5 613.0Z"/>
<path d="M558.6 606.4L560.0 608.2L558.6 610.1L557.2 608.2Z"/>
<path d="M564.5 604.2L565.9 606.1L564.5 608.0L563.1 606.1Z"/>
<path d="M570.8 595.9L572.1 597.7L570.8 599.6L569.4 597.7Z"/>
<path d="M577.4 591.4L578.8 593.2L577.4 595.1L576.0 593.2Z"/>
<path d="M584.6 589.5L586.0 591.4L584.6 593.2L583.2 591.4Z"/>
<path d="M592.1 584.4L593.5 586.3L592.1 588.1L590.8 586.3Z"/>
<path d="M600.3 579.1L601.6 581.0L600.3 582.9L598.9 581.0Z"/>
<path d="M609.3 572.9L610.6 574.8L609.3 576.6L607.9 574.8Z"/>
<path d="M618.8 564.8L620.1 566.6L618.8 568.5L617.4 566.6Z"/>
<path d="M629.1 556.6L630.5 558.5L629.1 560.4L627.8 558.5Z"/>
<path d="M640.1 550.8L641.5 552.6L640.1 554.5L638.8 552.6Z"/>
<path d="M651.6 539.9L653.0 541.8L651.6 543.6L650.2 541.8Z"/>
<path d="M662.9 529.6L664.2 531.5L662.9 533.4L661.5 531.5Z"/>
<path d="M675.8 519.9L677.1 521.8L675.8 523.6L674.4 521.8Z"/>
<path d="M689.2 508.1L690.6 510.0L689.2 511.9L687.9 510.0Z"/>
<path d="M703.3 496.2L704.6 498.1L703.3 500.0L701.9 498.1Z"/>
<path d="M718.0 482.9L719.4 484.8L718.0 486.7L716.6 484.8Z"/>
<path d="M733.2 468.3L734.6 470.2L733.2 472.1L731.9 470.2Z"/>
<path d="M749.4 454.5L750.8 456.4L749.4 458.2L748.0 456.4Z"/>
<path d="M767.6 440.5L769.0 442.4L767.6 444.2L766.2 442.4Z"/>
<path d="M786.0 420.8L787.4 422.6L786.0 424.5L784.6 422.6Z"/>
<path d="M806.3 405.5L807.6 407.4L806.3 409.2L804.9 407.4Z"/>
</g>
<g fill="#ff8c0a" stroke="#ff8c0a" stroke-width="1.9" stroke-linejoin="round">
<path d="M516.3 641.9L517.6 643.8L516.3 645.6L514.9 643.8Z"/>
<path d="M517.5 642.9L518.8 644.7L517.5 646.6L516.1 644.7Z"/>
<path d="M518.7 643.8L520.0 645.6L518.7 647.5L517.3 645.6Z"/>
<path d="M519.9 644.7L521.2 646.6L519.9 648.4L518.5 646.6Z"/>
<path d="M521.0 645.6L522.4 647.5L521.0 649.3L519.7 647.5Z"/>
<path d="M522.2 646.6L523.5 648.4L522.2 650.3L520.8 648.4Z"/>
<path d="M523.4 647.5L524.7 649.4L523.4 651.2L522.0 649.4Z"/>
<path d="M524.6 648.4L525.9 650.3L524.6 652.1L523.2 650.3Z"/>
<path d="M525.8 649.3L527.1 651.2L525.8 653.0L524.4 651.2Z"/>
<path d="M527.0 650.1L528.4 652.0L527.0 653.8L525.7 652.0Z"/>
<path d="M528.3 651.0L529.6 652.8L528.3 654.7L526.9 652.8Z"/>
<path d="M529.7 651.4L531.0 653.3L529.7 655.1L528.3 653.3Z"/>
<path d="M531.1 651.9L532.5 653.7L531.1 655.6L529.8 653.7Z"/>
<path d="M532.6 652.2L533.9 654.1L532.6 655.9L531.2 654.1Z"/>
<path d="M534.1 652.6L535.4 654.4L534.1 656.3L532.7 654.4Z"/>
<path d="M535.5 653.0L536.8 654.8L535.5 656.7L534.1 654.8Z"/>
<path d="M536.9 653.4L538.3 655.3L536.9 657.1L535.6 655.3Z"/>
<path d="M538.4 653.5L539.7 655.4L538.4 657.2L537.0 655.4Z"/>
<path d="M539.8 653.2L541.2 655.1L539.8 656.9L538.5 655.1Z"/>
<path d="M541.3 653.0L542.7 654.8L541.3 656.7L540.0 654.8Z"/>
<path d="M542.6 652.1L543.9 654.0L542.6 655.8L541.2 654.0Z"/>
<path d="M543.8 651.3L545.1 653.1L543.8 655.0L542.4 653.1Z"/>
<path d="M544.9 650.4L546.2 652.3L544.9 654.1L543.5 652.3Z"/>
<path d="M549.2 649.4L550.6 651.3L549.2 653.1L547.9 651.3Z"/>
<path d="M553.9 648.6L555.2 650.5L553.9 652.4L552.5 650.5Z"/>
<path d="M558.6 646.8L560.0 648.6L558.6 650.5L557.2 648.6Z"/>
<path d="M564.5 643.2L565.9 645.1L564.5 647.0L563.1 645.1Z"/>
<path d="M570.8 641.9L572.1 643.8L570.8 645.6L569.4 643.8Z"/>
<path d="M577.4 639.8L578.8 641.6L577.4 643.5L576.0 641.6Z"/>
<path d="M584.6 637.5L586.0 639.4L584.6 641.2L583.2 639.4Z"/>
<path d="M592.1 634.6L593.5 636.5L592.1 638.4L590.8 636.5Z"/>
<path d="M600.3 631.6L601.6 633.5L600.3 635.4L598.9 633.5Z"/>
<path d="M609.3 628.1L610.6 630.0L609.3 631.9L607.9 630.0Z"/>
<path d="M618.8 624.5L620.1 626.4L618.8 628.2L617.4 626.4Z"/>
<path d="M629.1 620.2L630.5 622.1L629.1 624.0L627.8 622.1Z"/>
<path d="M640.1 616.4L641.5 618.2L640.1 620.1L638.8 618.2Z"/>
<path d="M651.6 612.4L653.0 614.2L651.6 616.1L650.2 614.2Z"/>
<path d="M662.9 606.6L664.2 608.5L662.9 610.4L661.5 608.5Z"/>
<path d="M675.8 601.4L677.1 603.3L675.8 605.1L674.4 603.3Z"/>
<path d="M689.2 595.9L690.6 597.7L689.2 599.6L687.9 597.7Z"/>
<path d="M703.3 589.4L704.6 591.2L703.3 593.1L701.9 591.2Z"/>
<path d="M718.0 582.8L719.4 584.6L718.0 586.5L716.6 584.6Z"/>
<path d="M733.2 574.2L734.6 576.1L733.2 578.0L731.9 576.1Z"/>
<path d="M749.4 566.4L750.8 568.3L749.4 570.1L748.0 568.3Z"/>
<path d="M767.6 555.5L769.0 557.4L767.6 559.2L766.2 557.4Z"/>
<path d="M786.0 543.9L787.4 545.7L786.0 547.6L784.6 545.7Z"/>
<path d="M806.3 531.8L807.6 533.6L806.3 535.5L804.9 533.6Z"/>
<path d="M827.6 515.6L829.0 517.5L827.6 519.4L826.2 517.5Z"/>
</g>
<g fill="#0a981e" stroke="#0a981e" stroke-width="1.9" stroke-linejoin="round">
<path d="M516.3 693.9L517.6 695.8L516.3 697.6L514.9 695.8Z"/>
<path d="M517.8 693.9L519.1 695.8L517.8 697.6L516.4 695.8Z"/>
<path d="M519.3 693.9L520.6 695.8L519.3 697.6L517.9 695.8Z"/>
<path d="M520.8 693.9L522.1 695.8L520.8 697.6L519.4 695.8Z"/>
<path d="M522.3 693.9L523.6 695.8L522.3 697.6L520.9 695.8Z"/>
<path d="M523.8 693.9L525.1 695.8L523.8 697.6L522.4 695.8Z"/>
<path d="M525.3 693.9L526.6 695.8L525.3 697.6L523.9 695.8Z"/>
<path d="M526.8 693.9L528.1 695.8L526.8 697.6L525.4 695.8Z"/>
<path d="M528.3 693.9L529.6 695.8L528.3 697.6L526.9 695.8Z"/>
<path d="M529.8 693.9L531.1 695.8L529.8 697.6L528.4 695.8Z"/>
<path d="M531.3 693.9L532.6 695.8L531.3 697.6L529.9 695.8Z"/>
<path d="M532.8 693.9L534.1 695.8L532.8 697.6L531.4 695.8Z"/>
<path d="M534.3 693.9L535.6 695.8L534.3 697.6L532.9 695.8Z"/>
<path d="M535.8 693.9L537.1 695.8L535.8 697.6L534.4 695.8Z"/>
<path d="M537.3 693.9L538.6 695.8L537.3 697.6L535.9 695.8Z"/>
<path d="M538.8 693.9L540.1 695.8L538.8 697.6L537.4 695.8Z"/>
<path d="M540.3 693.9L541.6 695.8L540.3 697.6L538.9 695.8Z"/>
<path d="M541.8 693.9L543.1 695.8L541.8 697.6L540.4 695.8Z"/>
<path d="M543.3 693.9L544.6 695.8L543.3 697.6L541.9 695.8Z"/>
<path d="M544.8 693.9L546.1 695.8L544.8 697.6L543.4 695.8Z"/>
<path d="M544.9 693.9L546.2 695.8L544.9 697.6L543.5 695.8Z"/>
<path d="M549.2 693.9L550.6 695.8L549.2 697.6L547.9 695.8Z"/>
<path d="M553.9 693.9L555.2 695.8L553.9 697.6L552.5 695.8Z"/>
<path d="M558.6 693.8L560.0 695.6L558.6 697.5L557.2 695.6Z"/>
<path d="M564.5 692.0L565.9 693.9L564.5 695.8L563.1 693.9Z"/>
<path d="M570.8 691.9L572.1 693.7L570.8 695.6L569.4 693.7Z"/>
<path d="M577.4 690.4L578.8 692.3L577.4 694.1L576.0 692.3Z"/>
<path d="M584.6 689.9L586.0 691.7L584.6 693.6L583.2 691.7Z"/>
<path d="M592.1 688.5L593.5 690.4L592.1 692.2L590.8 690.4Z"/>
<path d="M600.3 687.6L601.6 689.5L600.3 691.4L598.9 689.5Z"/>
<path d="M609.3 686.9L610.6 688.7L609.3 690.6L607.9 688.7Z"/>
<path d="M618.8 686.4L620.1 688.3L618.8 690.1L617.4 688.3Z"/>
<path d="M629.1 685.0L630.5 686.9L629.1 688.8L627.8 686.9Z"/>
<path d="M640.1 683.5L641.5 685.4L640.1 687.2L638.8 685.4Z"/>
<path d="M651.6 681.9L653.0 683.8L651.6 685.6L650.2 683.8Z"/>
<path d="M662.9 680.1L664.2 682.0L662.9 683.9L661.5 682.0Z"/>
<path d="M675.8 678.5L677.1 680.4L675.8 682.2L674.4 680.4Z"/>
<path d="M689.2 676.6L690.6 678.5L689.2 680.4L687.9 678.5Z"/>
<path d="M703.3 674.2L704.6 676.1L703.3 678.0L701.9 676.1Z"/>
<path d="M718.0 672.0L719.4 673.9L718.0 675.8L716.6 673.9Z"/>
<path d="M733.2 668.8L734.6 670.6L733.2 672.5L731.9 670.6Z"/>
<path d="M749.4 666.1L750.8 668.0L749.4 669.9L748.0 668.0Z"/>
<path d="M767.6 662.4L769.0 664.2L767.6 666.1L766.2 664.2Z"/>
<path d="M786.0 657.6L787.4 659.5L786.0 661.4L784.6 659.5Z"/>
<path d="M806.3 652.9L807.6 654.8L806.3 656.6L804.9 654.8Z"/>
<path d="M827.6 646.8L829.0 648.6L827.6 650.5L826.2 648.6Z"/>
</g>
<g fill="#b8060a" stroke="#b8060a" stroke-width="1.9" stroke-linejoin="round">
<path d="M516.3 709.0L517.6 710.9L516.3 712.8L514.9 710.9Z"/>
<path d="M517.3 708.0L518.7 709.8L517.3 711.7L516.0 709.8Z"/>
<path d="M518.4 706.9L519.7 708.7L518.4 710.6L517.0 708.7Z"/>
<path d="M519.5 705.9L520.9 707.8L519.5 709.6L518.2 707.8Z"/>
<path d="M520.8 705.1L522.1 707.0L520.8 708.8L519.4 707.0Z"/>
<path d="M522.0 704.3L523.4 706.1L522.0 708.0L520.7 706.1Z"/>
<path d="M523.3 703.4L524.6 705.3L523.3 707.1L521.9 705.3Z"/>
<path d="M524.5 702.6L525.8 704.4L524.5 706.3L523.1 704.4Z"/>
<path d="M525.7 701.7L527.1 703.6L525.7 705.4L524.4 703.6Z"/>
<path d="M526.9 700.8L528.3 702.7L526.9 704.5L525.6 702.7Z"/>
<path d="M528.2 700.0L529.5 701.8L528.2 703.7L526.8 701.8Z"/>
<path d="M529.4 699.1L530.7 701.0L529.4 702.8L528.0 701.0Z"/>
<path d="M530.6 698.2L532.0 700.1L530.6 701.9L529.3 700.1Z"/>
<path d="M531.9 697.4L533.2 699.3L531.9 701.1L530.5 699.3Z"/>
<path d="M533.2 696.6L534.5 698.5L533.2 700.3L531.8 698.5Z"/>
<path d="M534.4 695.9L535.8 697.7L534.4 699.6L533.1 697.7Z"/>
<path d="M535.7 695.1L537.1 696.9L535.7 698.8L534.4 696.9Z"/>
<path d="M537.0 694.3L538.4 696.2L537.0 698.0L535.7 696.2Z"/>
<path d="M538.3 693.6L539.7 695.4L538.3 697.3L537.0 695.4Z"/>
<path d="M539.6 692.9L541.0 694.7L539.6 696.6L538.3 694.7Z"/>
<path d="M541.0 692.2L542.3 694.0L541.0 695.9L539.6 694.0Z"/>
<path d="M542.3 691.5L543.7 693.4L542.3 695.2L541.0 693.4Z"/>
<path d="M543.7 690.9L545.0 692.7L543.7 694.6L542.3 692.7Z"/>
<path d="M544.9 690.2L546.2 692.1L544.9 694.0L543.5 692.1Z"/>
<path d="M549.2 687.0L550.6 688.9L549.2 690.8L547.9 688.9Z"/>
<path d="M553.9 683.9L555.2 685.8L553.9 687.6L552.5 685.8Z"/>
<path d="M558.6 679.9L560.0 681.8L558.6 683.6L557.2 681.8Z"/>
<path d="M564.5 675.8L565.9 677.6L564.5 679.5L563.1 677.6Z"/>
<path d="M570.8 671.0L572.1 672.9L570.8 674.8L569.4 672.9Z"/>
<path d="M577.4 665.1L578.8 667.0L577.4 668.9L576.0 667.0Z"/>
<path d="M584.6 658.2L586.0 660.1L584.6 662.0L583.2 660.1Z"/>
<path d="M592.1 650.1L593.5 652.0L592.1 653.9L590.8 652.0Z"/>
<path d="M600.3 641.4L601.6 643.2L600.3 645.1L598.9 643.2Z"/>
<path d="M609.3 630.6L610.6 632.5L609.3 634.4L607.9 632.5Z"/>
<path d="M618.8 618.1L620.1 620.0L618.8 621.9L617.4 620.0Z"/>
<path d="M629.1 603.2L630.5 605.1L629.1 607.0L627.8 605.1Z"/>
<path d="M640.1 584.9L641.5 586.8L640.1 588.6L638.8 586.8Z"/>
<path d="M651.6 563.4L653.0 565.3L651.6 567.1L650.2 565.3Z"/>
<path d="M662.9 537.6L664.2 539.5L662.9 541.4L661.5 539.5Z"/>
<path d="M675.8 505.6L677.1 507.5L675.8 509.4L674.4 507.5Z"/>
<path d="M689.2 466.6L690.6 468.5L689.2 470.4L687.9 468.5Z"/>
<path d="M703.3 419.2L704.6 421.1L703.3 423.0L701.9 421.1Z"/>
</g>
</g>
<rect x="996" y="24" width="796" height="757" fill="url(#dz)"/>
<g fill="#000"><rect x="990.4" y="14.6" width="3.70" height="773.00"/><rect x="990.4" y="14.6" width="807.10" height="4.10"/><rect x="1793.8" y="14.6" width="3.70" height="773.00"/><rect x="990.4" y="782.8" width="807.10" height="4.80"/></g>
<clipPath id="cb"><rect x="992.3" y="16.7" width="803.2" height="768.4"/></clipPath>
<g clip-path="url(#cb)">
<g fill="#000000">
<ellipse cx="992.6" cy="233.8" rx="5.75" ry="7.0"/>
<ellipse cx="1019.8" cy="220.3" rx="5.75" ry="7.0"/>
<ellipse cx="1046.9" cy="204.3" rx="5.75" ry="7.0"/>
<ellipse cx="1074.1" cy="196.5" rx="5.75" ry="7.0"/>
<ellipse cx="1101.3" cy="201.8" rx="5.75" ry="7.0"/>
<ellipse cx="1128.5" cy="218.3" rx="5.75" ry="7.0"/>
<ellipse cx="1155.6" cy="238.3" rx="5.75" ry="7.0"/>
<ellipse cx="1182.8" cy="266.3" rx="5.75" ry="7.0"/>
<ellipse cx="1210.0" cy="280.5" rx="5.75" ry="7.0"/>
<ellipse cx="1237.1" cy="290.5" rx="5.75" ry="7.0"/>
<ellipse cx="1264.3" cy="299.8" rx="5.75" ry="7.0"/>
<ellipse cx="1291.5" cy="320.6" rx="5.75" ry="7.0"/>
<ellipse cx="1318.6" cy="340.6" rx="5.75" ry="7.0"/>
<ellipse cx="1345.8" cy="363.2" rx="5.75" ry="7.0"/>
<ellipse cx="1373.0" cy="385.7" rx="5.75" ry="7.0"/>
<ellipse cx="1400.2" cy="407.5" rx="5.75" ry="7.0"/>
<ellipse cx="1427.3" cy="429.0" rx="5.75" ry="7.0"/>
<ellipse cx="1454.5" cy="450.4" rx="5.75" ry="7.0"/>
<ellipse cx="1481.7" cy="470.0" rx="5.75" ry="7.0"/>
<ellipse cx="1508.8" cy="486.2" rx="5.75" ry="7.0"/>
<ellipse cx="1536.0" cy="503.0" rx="5.75" ry="7.0"/>
<ellipse cx="1563.2" cy="519.3" rx="5.75" ry="7.0"/>
<ellipse cx="1590.3" cy="533.6" rx="5.75" ry="7.0"/>
<ellipse cx="1617.5" cy="546.1" rx="5.75" ry="7.0"/>
<ellipse cx="1644.7" cy="559.4" rx="5.75" ry="7.0"/>
<ellipse cx="1671.8" cy="571.8" rx="5.75" ry="7.0"/>
<ellipse cx="1699.0" cy="581.1" rx="5.75" ry="7.0"/>
<ellipse cx="1726.2" cy="591.8" rx="5.75" ry="7.0"/>
<ellipse cx="1753.4" cy="599.9" rx="5.75" ry="7.0"/>
<ellipse cx="1780.5" cy="609.1" rx="5.75" ry="7.0"/>
</g>
<g fill="#ff33ff">
<ellipse cx="992.6" cy="242.9" rx="5.75" ry="7.0"/>
<ellipse cx="1019.8" cy="248.4" rx="5.75" ry="7.0"/>
<ellipse cx="1046.9" cy="256.7" rx="5.75" ry="7.0"/>
<ellipse cx="1074.1" cy="269.2" rx="5.75" ry="7.0"/>
<ellipse cx="1101.3" cy="289.8" rx="5.75" ry="7.0"/>
<ellipse cx="1128.5" cy="324.1" rx="5.75" ry="7.0"/>
<ellipse cx="1155.6" cy="370.2" rx="5.75" ry="7.0"/>
<ellipse cx="1182.8" cy="413.0" rx="5.75" ry="7.0"/>
<ellipse cx="1210.0" cy="445.4" rx="5.75" ry="7.0"/>
<ellipse cx="1237.1" cy="454.9" rx="5.75" ry="7.0"/>
<ellipse cx="1264.3" cy="457.4" rx="5.75" ry="7.0"/>
<ellipse cx="1291.5" cy="480.5" rx="5.75" ry="7.0"/>
<ellipse cx="1318.6" cy="502.5" rx="5.75" ry="7.0"/>
<ellipse cx="1345.8" cy="523.1" rx="5.75" ry="7.0"/>
<ellipse cx="1373.0" cy="541.1" rx="5.75" ry="7.0"/>
<ellipse cx="1400.2" cy="557.7" rx="5.75" ry="7.0"/>
<ellipse cx="1427.3" cy="570.5" rx="5.75" ry="7.0"/>
<ellipse cx="1454.5" cy="583.1" rx="5.75" ry="7.0"/>
<ellipse cx="1481.7" cy="592.9" rx="5.75" ry="7.0"/>
<ellipse cx="1508.8" cy="600.3" rx="5.75" ry="7.0"/>
<ellipse cx="1536.0" cy="606.7" rx="5.75" ry="7.0"/>
<ellipse cx="1563.2" cy="614.2" rx="5.75" ry="7.0"/>
<ellipse cx="1590.3" cy="620.6" rx="5.75" ry="7.0"/>
<ellipse cx="1617.5" cy="626.4" rx="5.75" ry="7.0"/>
<ellipse cx="1644.7" cy="630.4" rx="5.75" ry="7.0"/>
<ellipse cx="1671.8" cy="633.8" rx="5.75" ry="7.0"/>
<ellipse cx="1699.0" cy="637.8" rx="5.75" ry="7.0"/>
<ellipse cx="1726.2" cy="642.3" rx="5.75" ry="7.0"/>
<ellipse cx="1753.4" cy="646.0" rx="5.75" ry="7.0"/>
<ellipse cx="1780.5" cy="649.8" rx="5.75" ry="7.0"/>
</g>
<g fill="#9c9a16">
<ellipse cx="992.6" cy="160.2" rx="5.75" ry="7.0"/>
<ellipse cx="1019.8" cy="172.7" rx="5.75" ry="7.0"/>
<ellipse cx="1046.9" cy="190.8" rx="5.75" ry="7.0"/>
<ellipse cx="1074.1" cy="211.6" rx="5.75" ry="7.0"/>
<ellipse cx="1101.3" cy="241.3" rx="5.75" ry="7.0"/>
<ellipse cx="1128.5" cy="286.7" rx="5.75" ry="7.0"/>
<ellipse cx="1155.6" cy="338.1" rx="5.75" ry="7.0"/>
<ellipse cx="1182.8" cy="388.2" rx="5.75" ry="7.0"/>
<ellipse cx="1210.0" cy="422.8" rx="5.75" ry="7.0"/>
<ellipse cx="1237.1" cy="443.4" rx="5.75" ry="7.0"/>
<ellipse cx="1264.3" cy="460.9" rx="5.75" ry="7.0"/>
<ellipse cx="1291.5" cy="487.5" rx="5.75" ry="7.0"/>
<ellipse cx="1318.6" cy="512.3" rx="5.75" ry="7.0"/>
<ellipse cx="1345.8" cy="534.9" rx="5.75" ry="7.0"/>
<ellipse cx="1373.0" cy="555.1" rx="5.75" ry="7.0"/>
<ellipse cx="1400.2" cy="573.7" rx="5.75" ry="7.0"/>
<ellipse cx="1427.3" cy="589.8" rx="5.75" ry="7.0"/>
<ellipse cx="1454.5" cy="605.1" rx="5.75" ry="7.0"/>
<ellipse cx="1481.7" cy="617.8" rx="5.75" ry="7.0"/>
<ellipse cx="1508.8" cy="629.8" rx="5.75" ry="7.0"/>
<ellipse cx="1536.0" cy="640.8" rx="5.75" ry="7.0"/>
<ellipse cx="1563.2" cy="651.0" rx="5.75" ry="7.0"/>
<ellipse cx="1590.3" cy="657.8" rx="5.75" ry="7.0"/>
<ellipse cx="1617.5" cy="663.8" rx="5.75" ry="7.0"/>
<ellipse cx="1644.7" cy="669.8" rx="5.75" ry="7.0"/>
<ellipse cx="1671.8" cy="675.3" rx="5.75" ry="7.0"/>
<ellipse cx="1699.0" cy="680.8" rx="5.75" ry="7.0"/>
<ellipse cx="1726.2" cy="684.3" rx="5.75" ry="7.0"/>
<ellipse cx="1753.4" cy="689.3" rx="5.75" ry="7.0"/>
<ellipse cx="1780.5" cy="694.4" rx="5.75" ry="7.0"/>
</g>
<g fill="#0a2cc0">
<ellipse cx="992.6" cy="147.4" rx="5.75" ry="7.0"/>
<ellipse cx="1019.8" cy="146.9" rx="5.75" ry="7.0"/>
<ellipse cx="1046.9" cy="149.9" rx="5.75" ry="7.0"/>
<ellipse cx="1074.1" cy="157.7" rx="5.75" ry="7.0"/>
<ellipse cx="1101.3" cy="175.7" rx="5.75" ry="7.0"/>
<ellipse cx="1128.5" cy="204.3" rx="5.75" ry="7.0"/>
<ellipse cx="1155.6" cy="236.3" rx="5.75" ry="7.0"/>
<ellipse cx="1182.8" cy="270.0" rx="5.75" ry="7.0"/>
<ellipse cx="1210.0" cy="293.8" rx="5.75" ry="7.0"/>
<ellipse cx="1237.1" cy="308.8" rx="5.75" ry="7.0"/>
<ellipse cx="1264.3" cy="327.6" rx="5.75" ry="7.0"/>
<ellipse cx="1291.5" cy="358.7" rx="5.75" ry="7.0"/>
<ellipse cx="1318.6" cy="391.2" rx="5.75" ry="7.0"/>
<ellipse cx="1345.8" cy="419.9" rx="5.75" ry="7.0"/>
<ellipse cx="1373.0" cy="452.4" rx="5.75" ry="7.0"/>
<ellipse cx="1400.2" cy="485.5" rx="5.75" ry="7.0"/>
<ellipse cx="1427.3" cy="515.8" rx="5.75" ry="7.0"/>
<ellipse cx="1454.5" cy="544.4" rx="5.75" ry="7.0"/>
<ellipse cx="1481.7" cy="571.3" rx="5.75" ry="7.0"/>
<ellipse cx="1508.8" cy="594.3" rx="5.75" ry="7.0"/>
<ellipse cx="1536.0" cy="614.3" rx="5.75" ry="7.0"/>
<ellipse cx="1563.2" cy="632.1" rx="5.75" ry="7.0"/>
<ellipse cx="1590.3" cy="647.5" rx="5.75" ry="7.0"/>
<ellipse cx="1617.5" cy="661.8" rx="5.75" ry="7.0"/>
<ellipse cx="1644.7" cy="674.3" rx="5.75" ry="7.0"/>
<ellipse cx="1671.8" cy="685.6" rx="5.75" ry="7.0"/>
<ellipse cx="1699.0" cy="696.9" rx="5.75" ry="7.0"/>
<ellipse cx="1726.2" cy="704.4" rx="5.75" ry="7.0"/>
<ellipse cx="1753.4" cy="710.6" rx="5.75" ry="7.0"/>
<ellipse cx="1780.5" cy="718.2" rx="5.75" ry="7.0"/>
</g>
<g fill="#ff0a8c">
<ellipse cx="992.6" cy="108.8" rx="5.75" ry="7.0"/>
<ellipse cx="1019.8" cy="116.1" rx="5.75" ry="7.0"/>
<ellipse cx="1046.9" cy="128.1" rx="5.75" ry="7.0"/>
<ellipse cx="1074.1" cy="146.2" rx="5.75" ry="7.0"/>
<ellipse cx="1101.3" cy="173.2" rx="5.75" ry="7.0"/>
<ellipse cx="1128.5" cy="211.6" rx="5.75" ry="7.0"/>
<ellipse cx="1155.6" cy="257.9" rx="5.75" ry="7.0"/>
<ellipse cx="1182.8" cy="301.8" rx="5.75" ry="7.0"/>
<ellipse cx="1210.0" cy="332.3" rx="5.75" ry="7.0"/>
<ellipse cx="1237.1" cy="346.9" rx="5.75" ry="7.0"/>
<ellipse cx="1264.3" cy="367.7" rx="5.75" ry="7.0"/>
<ellipse cx="1291.5" cy="398.8" rx="5.75" ry="7.0"/>
<ellipse cx="1318.6" cy="427.8" rx="5.75" ry="7.0"/>
<ellipse cx="1345.8" cy="457.4" rx="5.75" ry="7.0"/>
<ellipse cx="1373.0" cy="483.7" rx="5.75" ry="7.0"/>
<ellipse cx="1400.2" cy="509.3" rx="5.75" ry="7.0"/>
<ellipse cx="1427.3" cy="533.6" rx="5.75" ry="7.0"/>
<ellipse cx="1454.5" cy="551.9" rx="5.75" ry="7.0"/>
<ellipse cx="1481.7" cy="571.8" rx="5.75" ry="7.0"/>
<ellipse cx="1508.8" cy="588.5" rx="5.75" ry="7.0"/>
<ellipse cx="1536.0" cy="605.8" rx="5.75" ry="7.0"/>
<ellipse cx="1563.2" cy="614.1" rx="5.75" ry="7.0"/>
<ellipse cx="1590.3" cy="625.8" rx="5.75" ry="7.0"/>
<ellipse cx="1617.5" cy="636.0" rx="5.75" ry="7.0"/>
<ellipse cx="1644.7" cy="644.2" rx="5.75" ry="7.0"/>
<ellipse cx="1671.8" cy="651.0" rx="5.75" ry="7.0"/>
<ellipse cx="1699.0" cy="658.0" rx="5.75" ry="7.0"/>
<ellipse cx="1726.2" cy="662.5" rx="5.75" ry="7.0"/>
<ellipse cx="1753.4" cy="666.8" rx="5.75" ry="7.0"/>
<ellipse cx="1780.5" cy="669.8" rx="5.75" ry="7.0"/>
</g>
<g fill="#ff8c0a">
<ellipse cx="992.6" cy="96.8" rx="5.75" ry="7.0"/>
<ellipse cx="1019.8" cy="102.3" rx="5.75" ry="7.0"/>
<ellipse cx="1046.9" cy="115.6" rx="5.75" ry="7.0"/>
<ellipse cx="1074.1" cy="133.1" rx="5.75" ry="7.0"/>
<ellipse cx="1101.3" cy="160.7" rx="5.75" ry="7.0"/>
<ellipse cx="1128.5" cy="200.3" rx="5.75" ry="7.0"/>
<ellipse cx="1155.6" cy="246.7" rx="5.75" ry="7.0"/>
<ellipse cx="1182.8" cy="292.3" rx="5.75" ry="7.0"/>
<ellipse cx="1210.0" cy="326.3" rx="5.75" ry="7.0"/>
<ellipse cx="1237.1" cy="350.6" rx="5.75" ry="7.0"/>
<ellipse cx="1264.3" cy="376.2" rx="5.75" ry="7.0"/>
<ellipse cx="1291.5" cy="408.9" rx="5.75" ry="7.0"/>
<ellipse cx="1318.6" cy="441.3" rx="5.75" ry="7.0"/>
<ellipse cx="1345.8" cy="472.2" rx="5.75" ry="7.0"/>
<ellipse cx="1373.0" cy="501.0" rx="5.75" ry="7.0"/>
<ellipse cx="1400.2" cy="528.1" rx="5.75" ry="7.0"/>
<ellipse cx="1427.3" cy="551.9" rx="5.75" ry="7.0"/>
<ellipse cx="1454.5" cy="573.5" rx="5.75" ry="7.0"/>
<ellipse cx="1481.7" cy="593.0" rx="5.75" ry="7.0"/>
<ellipse cx="1508.8" cy="611.8" rx="5.75" ry="7.0"/>
<ellipse cx="1536.0" cy="629.2" rx="5.75" ry="7.0"/>
<ellipse cx="1563.2" cy="638.8" rx="5.75" ry="7.0"/>
<ellipse cx="1590.3" cy="651.8" rx="5.75" ry="7.0"/>
<ellipse cx="1617.5" cy="663.0" rx="5.75" ry="7.0"/>
<ellipse cx="1644.7" cy="673.6" rx="5.75" ry="7.0"/>
<ellipse cx="1671.8" cy="681.8" rx="5.75" ry="7.0"/>
<ellipse cx="1699.0" cy="689.3" rx="5.75" ry="7.0"/>
<ellipse cx="1726.2" cy="696.9" rx="5.75" ry="7.0"/>
<ellipse cx="1753.4" cy="703.1" rx="5.75" ry="7.0"/>
<ellipse cx="1780.5" cy="709.4" rx="5.75" ry="7.0"/>
</g>
<g fill="#0a981e">
<ellipse cx="992.6" cy="82.5" rx="5.75" ry="7.0"/>
<ellipse cx="1019.8" cy="88.0" rx="5.75" ry="7.0"/>
<ellipse cx="1046.9" cy="97.3" rx="5.75" ry="7.0"/>
<ellipse cx="1074.1" cy="111.3" rx="5.75" ry="7.0"/>
<ellipse cx="1101.3" cy="133.6" rx="5.75" ry="7.0"/>
<ellipse cx="1128.5" cy="165.7" rx="5.75" ry="7.0"/>
<ellipse cx="1155.6" cy="205.3" rx="5.75" ry="7.0"/>
<ellipse cx="1182.8" cy="242.3" rx="5.75" ry="7.0"/>
<ellipse cx="1210.0" cy="268.5" rx="5.75" ry="7.0"/>
<ellipse cx="1237.1" cy="286.7" rx="5.75" ry="7.0"/>
<ellipse cx="1264.3" cy="303.0" rx="5.75" ry="7.0"/>
<ellipse cx="1291.5" cy="336.9" rx="5.75" ry="7.0"/>
<ellipse cx="1318.6" cy="369.9" rx="5.75" ry="7.0"/>
<ellipse cx="1345.8" cy="402.9" rx="5.75" ry="7.0"/>
<ellipse cx="1373.0" cy="435.3" rx="5.75" ry="7.0"/>
<ellipse cx="1400.2" cy="468.5" rx="5.75" ry="7.0"/>
<ellipse cx="1427.3" cy="499.3" rx="5.75" ry="7.0"/>
<ellipse cx="1454.5" cy="528.6" rx="5.75" ry="7.0"/>
<ellipse cx="1481.7" cy="555.7" rx="5.75" ry="7.0"/>
<ellipse cx="1508.8" cy="578.5" rx="5.75" ry="7.0"/>
<ellipse cx="1536.0" cy="600.5" rx="5.75" ry="7.0"/>
<ellipse cx="1563.2" cy="619.6" rx="5.75" ry="7.0"/>
<ellipse cx="1590.3" cy="636.8" rx="5.75" ry="7.0"/>
<ellipse cx="1617.5" cy="651.0" rx="5.75" ry="7.0"/>
<ellipse cx="1644.7" cy="664.8" rx="5.75" ry="7.0"/>
<ellipse cx="1671.8" cy="676.1" rx="5.75" ry="7.0"/>
<ellipse cx="1699.0" cy="685.6" rx="5.75" ry="7.0"/>
<ellipse cx="1726.2" cy="693.9" rx="5.75" ry="7.0"/>
<ellipse cx="1753.4" cy="700.1" rx="5.75" ry="7.0"/>
<ellipse cx="1780.5" cy="706.1" rx="5.75" ry="7.0"/>
</g>
<g fill="#b8060a">
<ellipse cx="992.6" cy="47.9" rx="5.75" ry="7.0"/>
<ellipse cx="1019.8" cy="54.7" rx="5.75" ry="7.0"/>
<ellipse cx="1046.9" cy="66.7" rx="5.75" ry="7.0"/>
<ellipse cx="1074.1" cy="83.5" rx="5.75" ry="7.0"/>
<ellipse cx="1101.3" cy="107.6" rx="5.75" ry="7.0"/>
<ellipse cx="1128.5" cy="143.2" rx="5.75" ry="7.0"/>
<ellipse cx="1155.6" cy="185.8" rx="5.75" ry="7.0"/>
<ellipse cx="1182.8" cy="226.3" rx="5.75" ry="7.0"/>
<ellipse cx="1210.0" cy="258.4" rx="5.75" ry="7.0"/>
<ellipse cx="1237.1" cy="282.5" rx="5.75" ry="7.0"/>
<ellipse cx="1264.3" cy="310.5" rx="5.75" ry="7.0"/>
<ellipse cx="1291.5" cy="348.1" rx="5.75" ry="7.0"/>
<ellipse cx="1318.6" cy="386.2" rx="5.75" ry="7.0"/>
<ellipse cx="1345.8" cy="423.2" rx="5.75" ry="7.0"/>
<ellipse cx="1373.0" cy="459.9" rx="5.75" ry="7.0"/>
<ellipse cx="1400.2" cy="494.3" rx="5.75" ry="7.0"/>
<ellipse cx="1427.3" cy="526.8" rx="5.75" ry="7.0"/>
<ellipse cx="1454.5" cy="556.2" rx="5.75" ry="7.0"/>
<ellipse cx="1481.7" cy="581.8" rx="5.75" ry="7.0"/>
<ellipse cx="1508.8" cy="604.7" rx="5.75" ry="7.0"/>
<ellipse cx="1536.0" cy="624.8" rx="5.75" ry="7.0"/>
<ellipse cx="1563.2" cy="643.0" rx="5.75" ry="7.0"/>
<ellipse cx="1590.3" cy="658.5" rx="5.75" ry="7.0"/>
<ellipse cx="1617.5" cy="670.5" rx="5.75" ry="7.0"/>
<ellipse cx="1644.7" cy="683.1" rx="5.75" ry="7.0"/>
<ellipse cx="1671.8" cy="691.3" rx="5.75" ry="7.0"/>
<ellipse cx="1699.0" cy="699.9" rx="5.75" ry="7.0"/>
<ellipse cx="1726.2" cy="706.9" rx="5.75" ry="7.0"/>
<ellipse cx="1753.4" cy="711.9" rx="5.75" ry="7.0"/>
<ellipse cx="1780.5" cy="716.9" rx="5.75" ry="7.0"/>
</g>
</g>
<rect x="1613.6" y="31.3" width="165.1" height="358.3" fill="url(#dz)" stroke="#262626" stroke-width="1.8"/>
<ellipse cx="1653.4" cy="58.2" rx="6.0" ry="7.2" fill="#000000"/>
<ellipse cx="1653.4" cy="102.3" rx="6.0" ry="7.2" fill="#ff33ff"/>
<ellipse cx="1653.4" cy="146.4" rx="6.0" ry="7.2" fill="#9c9a16"/>
<ellipse cx="1653.4" cy="190.5" rx="6.0" ry="7.2" fill="#0a2cc0"/>
<ellipse cx="1653.4" cy="234.6" rx="6.0" ry="7.2" fill="#ff0a8c"/>
<ellipse cx="1653.4" cy="278.7" rx="6.0" ry="7.2" fill="#ff8c0a"/>
<ellipse cx="1653.4" cy="322.7" rx="6.0" ry="7.2" fill="#0a981e"/>
<ellipse cx="1653.4" cy="366.8" rx="6.0" ry="7.2" fill="#b8060a"/>
<g>
<text transform="translate(336.46,60.40) scale(0.8431,1)" font-size="20.56" font-weight="bold" font-style="normal" fill="#000">rGO</text>
<text transform="translate(336.46,87.00) scale(0.8431,1)" font-size="20.56" font-weight="bold" font-style="normal" fill="#000">PANI</text>
<text transform="translate(336.46,113.50) scale(0.8431,1)" font-size="20.56" font-weight="bold" font-style="normal" fill="#000">rGO/PANI</text>
<text transform="translate(336.81,140.10) scale(0.8431,1)" font-size="20.56" font-weight="bold" font-style="normal" fill="#000">GPT10</text>
<text transform="translate(336.81,166.60) scale(0.8431,1)" font-size="20.56" font-weight="bold" font-style="normal" fill="#000">GPT20</text>
<text transform="translate(336.81,193.20) scale(0.8431,1)" font-size="20.56" font-weight="bold" font-style="normal" fill="#000">GPT30</text>
<text transform="translate(336.81,219.80) scale(0.8431,1)" font-size="20.56" font-weight="bold" font-style="normal" fill="#000">GPT40</text>
<text transform="translate(336.81,246.40) scale(0.8431,1)" font-size="20.56" font-weight="bold" font-style="normal" fill="#000">GPT50</text>
<text transform="translate(68.85,793.47) scale(0.7725,1)" font-size="33.24" font-weight="bold" font-style="normal" fill="#000">0</text>
<text transform="translate(54.57,729.47) scale(0.7725,1)" font-size="33.24" font-weight="bold" font-style="normal" fill="#000">50</text>
<text transform="translate(40.29,665.47) scale(0.7725,1)" font-size="33.24" font-weight="bold" font-style="normal" fill="#000">100</text>
<text transform="translate(40.29,601.47) scale(0.7725,1)" font-size="33.24" font-weight="bold" font-style="normal" fill="#000">150</text>
<text transform="translate(40.29,537.47) scale(0.7725,1)" font-size="33.24" font-weight="bold" font-style="normal" fill="#000">200</text>
<text transform="translate(40.29,473.47) scale(0.7725,1)" font-size="33.24" font-weight="bold" font-style="normal" fill="#000">250</text>
<text transform="translate(40.29,409.47) scale(0.7725,1)" font-size="33.24" font-weight="bold" font-style="normal" fill="#000">300</text>
<text transform="translate(40.29,345.47) scale(0.7725,1)" font-size="33.24" font-weight="bold" font-style="normal" fill="#000">350</text>
<text transform="translate(40.29,281.47) scale(0.7725,1)" font-size="33.24" font-weight="bold" font-style="normal" fill="#000">400</text>
<text transform="translate(40.29,217.47) scale(0.7725,1)" font-size="33.24" font-weight="bold" font-style="normal" fill="#000">450</text>
<text transform="translate(40.29,153.47) scale(0.7725,1)" font-size="33.24" font-weight="bold" font-style="normal" fill="#000">500</text>
<text transform="translate(40.29,89.47) scale(0.7725,1)" font-size="33.24" font-weight="bold" font-style="normal" fill="#000">550</text>
<text transform="translate(40.29,25.47) scale(0.7725,1)" font-size="33.24" font-weight="bold" font-style="normal" fill="#000">600</text>
<text transform="translate(103.72,819.07) scale(0.7860,1)" font-size="33.24" font-weight="bold" font-style="normal" fill="#000">0</text>
<text transform="translate(182.54,819.07) scale(0.7860,1)" font-size="33.24" font-weight="bold" font-style="normal" fill="#000">100</text>
<text transform="translate(276.69,819.07) scale(0.7860,1)" font-size="33.24" font-weight="bold" font-style="normal" fill="#000">200</text>
<text transform="translate(370.57,819.07) scale(0.7860,1)" font-size="33.24" font-weight="bold" font-style="normal" fill="#000">300</text>
<text transform="translate(464.45,819.07) scale(0.7860,1)" font-size="33.24" font-weight="bold" font-style="normal" fill="#000">400</text>
<text transform="translate(557.94,819.07) scale(0.7860,1)" font-size="33.24" font-weight="bold" font-style="normal" fill="#000">500</text>
<text transform="translate(651.69,819.07) scale(0.7860,1)" font-size="33.24" font-weight="bold" font-style="normal" fill="#000">600</text>
<text transform="translate(745.30,819.07) scale(0.7860,1)" font-size="33.24" font-weight="bold" font-style="normal" fill="#000">700</text>
<text transform="translate(839.19,819.07) scale(0.7860,1)" font-size="33.24" font-weight="bold" font-style="normal" fill="#000">800</text>
<text transform="translate(417.64,871.40) scale(0.8070,1)" font-size="40.87" font-weight="bold" font-style="normal" fill="#000">Z</text>
<text transform="translate(437.37,876.08) scale(0.5442,1)" font-size="56.54" font-weight="normal" font-style="normal" fill="#000">′</text>
<text transform="translate(442.95,869.72) scale(0.8228,1)" font-size="37.98" font-weight="bold" font-style="normal" fill="#000">(Ohm)</text>
<text transform="translate(30.20,510.68) rotate(-90) scale(1.2005,1)" font-size="30.72" font-weight="normal" font-style="normal" fill="#000" stroke="#000" stroke-width="1.0" stroke-linejoin="round">-Z</text>
<text transform="translate(35.03,477.07) rotate(-90) scale(0.8218,1)" font-size="44.62" font-weight="normal" font-style="normal" fill="#000">″</text>
<text transform="translate(30.36,464.96) rotate(-90) scale(1.3421,1)" font-size="29.26" font-weight="normal" font-style="normal" fill="#000" stroke="#000" stroke-width="1.0" stroke-linejoin="round">(Ohm)</text>
<text transform="translate(387.77,933.71) scale(0.9821,1)" font-size="54.26" font-weight="bold" font-style="normal" fill="#000">(a)</text>
<text transform="translate(511.53,770.17) scale(0.8753,1)" font-size="11.69" font-weight="normal" font-style="normal" fill="#15151f" stroke="#15151f" stroke-width="0.5" stroke-linejoin="round">5</text>
<text transform="translate(595.64,770.23) scale(0.8753,1)" font-size="11.69" font-weight="normal" font-style="normal" fill="#15151f" stroke="#15151f" stroke-width="0.5" stroke-linejoin="round">10</text>
<text transform="translate(681.54,770.17) scale(0.8753,1)" font-size="11.69" font-weight="normal" font-style="normal" fill="#15151f" stroke="#15151f" stroke-width="0.5" stroke-linejoin="round">15</text>
<text transform="translate(766.94,770.23) scale(0.8753,1)" font-size="11.69" font-weight="normal" font-style="normal" fill="#15151f" stroke="#15151f" stroke-width="0.5" stroke-linejoin="round">20</text>
<text transform="translate(504.19,496.43) scale(0.8753,1)" font-size="11.69" font-weight="normal" font-style="normal" fill="#15151f" stroke="#15151f" stroke-width="0.5" stroke-linejoin="round">30</text>
<text transform="translate(504.19,608.17) scale(0.8753,1)" font-size="11.69" font-weight="normal" font-style="normal" fill="#15151f" stroke="#15151f" stroke-width="0.5" stroke-linejoin="round">15</text>
<text transform="translate(509.88,720.23) scale(0.8753,1)" font-size="11.69" font-weight="normal" font-style="normal" fill="#15151f" stroke="#15151f" stroke-width="0.5" stroke-linejoin="round">0</text>
<text transform="translate(1690.91,70.40) scale(0.7822,1)" font-size="23.24" font-weight="bold" font-style="normal" fill="#000">rGO</text>
<text transform="translate(1690.91,114.49) scale(0.7822,1)" font-size="23.24" font-weight="bold" font-style="normal" fill="#000">PANI</text>
<text transform="translate(1690.91,158.58) scale(0.7822,1)" font-size="23.24" font-weight="bold" font-style="normal" fill="#000">rGO/PANI</text>
<text transform="translate(1691.27,202.67) scale(0.7822,1)" font-size="23.24" font-weight="bold" font-style="normal" fill="#000">GPT10</text>
<text transform="translate(1691.27,246.76) scale(0.7822,1)" font-size="23.24" font-weight="bold" font-style="normal" fill="#000">GPT20</text>
<text transform="translate(1691.27,290.85) scale(0.7822,1)" font-size="23.24" font-weight="bold" font-style="normal" fill="#000">GPT30</text>
<text transform="translate(1691.27,334.94) scale(0.7822,1)" font-size="23.24" font-weight="bold" font-style="normal" fill="#000">GPT40</text>
<text transform="translate(1691.27,379.03) scale(0.7822,1)" font-size="23.24" font-weight="bold" font-style="normal" fill="#000">GPT50</text>
<text transform="translate(970.03,800.86) scale(0.8127,1)" font-size="33.52" font-weight="bold" font-style="normal" fill="#000">0</text>
<text transform="translate(954.88,672.78) scale(0.8127,1)" font-size="33.52" font-weight="bold" font-style="normal" fill="#000">10</text>
<text transform="translate(954.88,544.70) scale(0.8127,1)" font-size="33.52" font-weight="bold" font-style="normal" fill="#000">20</text>
<text transform="translate(954.88,416.62) scale(0.8127,1)" font-size="33.52" font-weight="bold" font-style="normal" fill="#000">30</text>
<text transform="translate(954.88,288.54) scale(0.8127,1)" font-size="33.52" font-weight="bold" font-style="normal" fill="#000">40</text>
<text transform="translate(954.88,160.46) scale(0.8127,1)" font-size="33.52" font-weight="bold" font-style="normal" fill="#000">50</text>
<text transform="translate(954.88,32.38) scale(0.8127,1)" font-size="33.52" font-weight="bold" font-style="normal" fill="#000">60</text>
<text transform="translate(973.57,822.77) scale(0.8383,1)" font-size="32.82" font-weight="bold" font-style="normal" fill="#000">0.01</text>
<text transform="translate(1248.99,822.77) scale(0.8178,1)" font-size="32.82" font-weight="bold" font-style="normal" fill="#000">0.1</text>
<text transform="translate(1527.86,823.10) scale(0.8643,1)" font-size="33.48" font-weight="bold" font-style="normal" fill="#000">1</text>
<text transform="translate(1787.96,822.77) scale(0.8307,1)" font-size="32.82" font-weight="bold" font-style="normal" fill="#000">10</text>
<text transform="translate(1275.53,865.36) scale(0.9025,1)" font-size="36.38" font-weight="bold" font-style="normal" fill="#000">Frequency (Hz)</text>
<text transform="translate(944.74,564.61) rotate(-90) scale(1.2146,1)" font-size="31.70" font-weight="bold" font-style="normal" fill="#000">Phase (degree)</text>
<text transform="translate(1312.86,936.06) scale(0.9811,1)" font-size="54.47" font-weight="bold" font-style="normal" fill="#000">(b)</text>
</g>
</svg>
</body>
</html>
